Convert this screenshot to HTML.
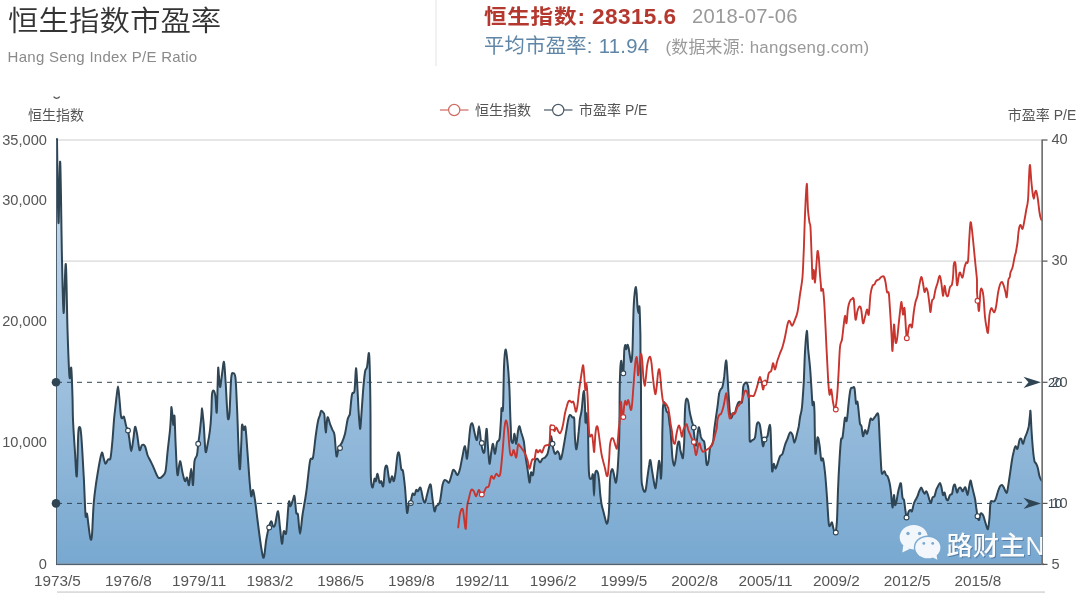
<!DOCTYPE html>
<html lang="zh-CN"><head><meta charset="utf-8"><title>恒生指数市盈率</title>
<style>html,body{margin:0;padding:0;background:#fff;}body{width:1080px;height:593px;overflow:hidden;position:relative;font-family:"Liberation Sans", "Noto Sans CJK SC", sans-serif;}svg{display:block;position:absolute;left:0;top:0;}text{font-family:"Liberation Sans", "Noto Sans CJK SC", sans-serif;}</style>
</head><body>
<svg width="1080" height="593" viewBox="0 0 1080 593">
<defs>
<linearGradient id="g" x1="0" y1="140" x2="0" y2="563" gradientUnits="userSpaceOnUse"><stop offset="0" stop-color="#d0e0f0"/><stop offset="1" stop-color="#78a8d0"/></linearGradient>
<clipPath id="c"><rect x="56" y="138" width="986.5" height="427"/></clipPath>
</defs>
<rect width="1080" height="593" fill="#fff"/>
<text transform="translate(8 30.7) scale(1 0.94)" font-size="30.5" font-weight="350" fill="#333">恒生指数市盈率</text>
<text x="7.6" y="62" font-size="15" fill="#8a8a8a" textLength="189.6" lengthAdjust="spacing">Hang Seng Index P/E Ratio</text>
<rect x="435.5" y="0" width="1" height="66" fill="#e3e3e3"/>
<text transform="translate(484 24.3) scale(1 0.9)" font-size="22.6" font-weight="bold" fill="#b5382f" textLength="92.5" lengthAdjust="spacing">恒生指数</text>
<text x="577.6" y="24" font-size="22.6" font-weight="bold" fill="#b5382f" textLength="98.4" lengthAdjust="spacing">: 28315.6</text>
<text x="692" y="22.6" font-size="20.2" fill="#999" textLength="105.5" lengthAdjust="spacing">2018-07-06</text>
<text x="484" y="52.6" font-size="20.3" fill="#5f86a6" textLength="165" lengthAdjust="spacing">平均市盈率: 11.94</text>
<text x="665.5" y="52.6" font-size="16.9" fill="#999" textLength="203.6" lengthAdjust="spacing">(数据来源: hangseng.com)</text>
<path d="M53.6 96.6Q56.6 100 59.8 96.6" fill="none" stroke="#555" stroke-width="1.3"/>
<text x="56" y="119.5" font-size="14" text-anchor="middle" fill="#555">恒生指数</text>
<text x="1042" y="119.5" font-size="14" text-anchor="middle" fill="#555">市盈率 P/E</text>
<g fill="#fff" stroke-width="1.2"><path d="M440 110H468.5" stroke="#cf6a63"/><circle cx="454.2" cy="110" r="5.6" stroke="#cf6a63"/><path d="M544 110H572.5" stroke="#4a5a68"/><circle cx="558.2" cy="110" r="5.6" stroke="#4a5a68"/></g>
<text x="475" y="115" font-size="14" fill="#555">恒生指数</text>
<text x="579" y="115" font-size="14" fill="#555">市盈率 P/E</text>
<g fill="#d6d6d6"><rect x="57" y="139.4" width="986" height="1.2"/><rect x="57" y="260.5" width="986" height="1.2"/></g>
<text x="46.9" y="144.8" font-size="14.6" text-anchor="end" fill="#555">35,000</text>
<text x="46.9" y="205.3" font-size="14.6" text-anchor="end" fill="#555">30,000</text>
<text x="46.9" y="326.3" font-size="14.6" text-anchor="end" fill="#555">20,000</text>
<text x="46.9" y="447.3" font-size="14.6" text-anchor="end" fill="#555">10,000</text>
<text x="46.9" y="569.2" font-size="14.6" text-anchor="end" fill="#555">0</text>
<text x="1051.5" y="144.2" font-size="14.6" fill="#555">40</text>
<text x="1051.5" y="265.2" font-size="14.6" fill="#555">30</text>
<text x="1051.5" y="386.7" font-size="14.6" fill="#555">20</text>
<text x="1051.5" y="507.7" font-size="14.6" fill="#555">10</text>
<text x="1051.5" y="569.2" font-size="14.6" fill="#555">5</text>
<text x="57.5" y="586" font-size="15.3" text-anchor="middle" fill="#555">1973/5</text>
<text x="128.3" y="586" font-size="15.3" text-anchor="middle" fill="#555">1976/8</text>
<text x="199.1" y="586" font-size="15.3" text-anchor="middle" fill="#555">1979/11</text>
<text x="269.9" y="586" font-size="15.3" text-anchor="middle" fill="#555">1983/2</text>
<text x="340.7" y="586" font-size="15.3" text-anchor="middle" fill="#555">1986/5</text>
<text x="411.5" y="586" font-size="15.3" text-anchor="middle" fill="#555">1989/8</text>
<text x="482.3" y="586" font-size="15.3" text-anchor="middle" fill="#555">1992/11</text>
<text x="553.1" y="586" font-size="15.3" text-anchor="middle" fill="#555">1996/2</text>
<text x="623.9" y="586" font-size="15.3" text-anchor="middle" fill="#555">1999/5</text>
<text x="694.7" y="586" font-size="15.3" text-anchor="middle" fill="#555">2002/8</text>
<text x="765.5" y="586" font-size="15.3" text-anchor="middle" fill="#555">2005/11</text>
<text x="836.3" y="586" font-size="15.3" text-anchor="middle" fill="#555">2009/2</text>
<text x="907.1" y="586" font-size="15.3" text-anchor="middle" fill="#555">2012/5</text>
<text x="977.9" y="586" font-size="15.3" text-anchor="middle" fill="#555">2015/8</text>
<g clip-path="url(#c)">
<path d="M57.0 139.0C57.2 153.0 58.0 219.2 58.5 223.0C59.0 226.8 59.6 155.8 60.2 162.0C60.8 168.2 61.4 234.8 62.0 260.0C62.6 285.2 63.0 312.3 63.6 313.0C64.2 313.7 65.1 261.2 65.8 264.0C66.5 266.8 66.9 310.7 67.5 329.5C68.1 348.3 68.9 370.6 69.5 377.0C70.1 383.4 70.8 364.7 71.2 368.0C71.8 371.3 72.2 388.3 72.5 397.0C72.8 405.7 72.6 410.8 73.0 420.0C73.4 429.2 74.4 443.1 75.0 452.5C75.6 461.9 76.2 479.2 76.8 476.2C77.3 473.3 77.8 443.2 78.2 435.0C78.7 426.8 79.0 427.0 79.5 427.0C80.0 427.0 80.5 426.6 81.2 435.0C82.0 443.4 83.0 464.2 83.8 477.5C84.5 490.8 85.0 509.0 85.5 515.0C86.0 521.0 86.5 511.7 87.0 513.8C87.5 515.8 88.2 523.3 88.8 527.5C89.3 531.7 90.0 537.5 90.5 538.8C91.0 540.0 91.5 541.0 92.0 535.0C92.5 529.0 93.0 511.2 93.8 502.5C94.5 493.8 95.2 489.6 96.2 482.5C97.3 475.4 99.0 465.0 100.0 460.0C101.0 455.0 101.4 452.7 102.0 452.5C102.6 452.3 103.2 456.9 103.8 458.8C104.3 460.6 104.8 463.6 105.5 463.8C106.2 463.9 107.2 460.5 108.0 459.5C108.8 458.5 109.8 461.2 110.5 458.0C111.2 454.8 111.9 446.8 112.5 440.0C113.1 433.2 113.6 424.2 114.2 417.5C114.9 410.8 115.6 404.7 116.2 399.5C116.9 394.3 117.5 386.5 118.0 386.5C118.5 386.5 119.0 394.5 119.5 399.5C120.0 404.5 120.5 413.2 121.0 416.2C121.5 419.3 122.0 417.9 122.5 418.0C123.0 418.1 123.4 415.6 124.0 417.0C124.6 418.4 125.6 424.0 126.2 426.2C126.9 428.5 127.5 428.2 128.0 430.5C128.5 432.8 129.0 436.5 129.5 440.0C130.0 443.5 130.6 451.2 131.2 451.2C131.9 451.2 132.6 444.0 133.2 440.0C133.9 436.0 134.4 428.0 135.0 427.0C135.6 426.0 136.2 429.9 137.0 433.8C137.8 437.6 138.7 448.1 139.5 450.0C140.3 451.9 141.1 445.6 142.0 445.0C142.9 444.4 144.1 444.6 145.0 446.2C145.9 447.9 146.7 452.7 147.5 455.0C148.3 457.3 149.1 458.1 150.0 460.0C150.9 461.9 152.0 464.0 153.0 466.2C154.0 468.5 155.3 471.8 156.2 473.8C157.2 475.7 157.7 477.6 158.8 478.0C159.8 478.4 161.4 477.4 162.5 476.2C163.6 475.1 164.7 475.2 165.5 471.2C166.3 467.3 166.8 459.4 167.5 452.5C168.2 445.6 169.4 436.2 170.0 430.0C170.6 423.8 170.8 418.8 171.0 415.0C171.2 411.2 171.2 406.8 171.5 407.0C171.8 407.2 172.2 413.2 172.5 416.2C172.8 419.2 172.9 425.0 173.2 425.0C173.6 425.0 174.1 412.5 174.5 416.2C174.9 420.0 175.2 437.7 175.8 447.5C176.2 457.3 176.8 472.7 177.5 475.0C178.2 477.3 179.2 461.7 180.0 461.2C180.8 460.8 181.7 469.2 182.5 472.5C183.3 475.8 184.2 480.4 185.0 481.2C185.8 482.1 186.3 476.9 187.0 477.5C187.7 478.1 188.3 486.5 189.0 485.0C189.7 483.5 190.6 468.8 191.2 468.8C191.9 468.8 192.5 486.2 193.0 485.0C193.5 483.8 193.8 466.2 194.5 461.2C195.2 456.2 196.4 457.9 197.0 455.0C197.6 452.1 197.8 447.9 198.2 443.8C198.8 439.6 199.5 434.8 200.0 430.0C200.5 425.2 201.2 418.6 201.5 415.0C201.8 411.4 201.8 408.2 202.0 408.2C202.2 408.2 202.5 412.2 202.8 415.0C203.0 417.8 203.3 419.0 203.8 425.0C204.2 431.0 204.9 447.9 205.5 451.2C206.1 454.6 206.8 448.5 207.5 445.0C208.2 441.5 209.4 435.0 210.0 430.0C210.6 425.0 210.9 420.9 211.2 415.0C211.6 409.1 211.6 398.5 212.0 394.5C212.4 390.5 213.2 390.3 213.8 390.8C214.3 391.2 215.0 393.5 215.5 397.0C216.0 400.5 216.3 416.2 216.8 412.0C217.2 407.8 217.7 379.0 218.0 372.0C218.3 365.0 218.2 367.5 218.5 370.0C218.8 372.5 219.4 386.2 220.0 387.0C220.6 387.8 221.3 378.7 222.0 374.5C222.7 370.3 223.4 360.3 224.0 362.0C224.6 363.7 225.2 377.0 225.8 384.5C226.2 392.0 226.6 401.3 227.0 407.0C227.4 412.7 227.6 417.7 228.0 418.8C228.4 419.8 229.0 420.0 229.5 413.2C230.0 406.5 230.6 384.9 231.2 378.2C231.9 371.6 232.5 373.2 233.2 373.2C234.0 373.2 234.9 372.6 235.5 378.2C236.1 383.9 236.5 396.7 237.0 407.0C237.5 417.3 237.9 431.2 238.2 440.0C238.6 448.8 238.7 455.2 239.0 460.0C239.3 464.8 239.6 471.2 240.0 468.8C240.4 466.2 240.9 452.3 241.2 445.0C241.6 437.7 241.6 427.5 242.0 425.0C242.4 422.5 243.2 429.6 243.8 430.0C244.3 430.4 244.9 423.8 245.5 427.5C246.1 431.2 246.8 443.8 247.5 452.5C248.2 461.2 248.9 472.7 249.5 480.0C250.1 487.3 250.7 494.6 251.2 496.2C251.8 497.9 252.4 489.4 253.0 490.0C253.6 490.6 254.2 495.0 255.0 500.0C255.8 505.0 256.5 512.1 257.5 520.0C258.5 527.9 260.2 541.2 261.2 547.5C262.3 553.8 262.9 558.8 263.8 557.5C264.6 556.2 265.4 545.0 266.2 540.0C267.1 535.0 267.9 530.6 268.8 527.5C269.6 524.4 270.5 521.5 271.2 521.2C272.0 521.0 272.4 525.6 273.0 526.2C273.6 526.9 274.2 527.5 275.0 525.0C275.8 522.5 277.2 510.8 278.0 511.2C278.8 511.7 279.3 522.1 280.0 527.5C280.7 532.9 281.4 543.1 282.0 543.8C282.6 544.4 283.0 533.1 283.8 531.2C284.5 529.4 285.4 537.3 286.2 532.5C287.1 527.7 288.0 506.9 288.8 502.5C289.5 498.1 289.9 506.5 290.5 506.2C291.1 506.0 291.8 502.9 292.5 501.2C293.2 499.6 293.9 494.4 294.5 496.2C295.1 498.1 295.7 509.4 296.2 512.5C296.8 515.6 297.4 511.5 298.0 515.0C298.6 518.5 299.2 533.8 300.0 533.8C300.8 533.8 301.5 521.9 302.5 515.0C303.5 508.1 305.0 501.5 306.2 492.5C307.5 483.5 308.9 467.1 310.0 461.2C311.1 455.4 312.1 461.5 313.0 457.5C313.9 453.5 314.7 443.5 315.5 437.5C316.3 431.5 317.2 425.0 318.0 421.2C318.8 417.5 319.5 416.8 320.0 415.0C320.5 413.2 320.6 411.0 321.2 410.8C321.9 410.5 323.2 412.3 323.8 413.2C324.3 414.2 324.2 413.0 324.5 416.2C324.8 419.5 325.2 432.3 325.8 432.5C326.2 432.7 326.8 419.0 327.5 417.5C328.2 416.0 329.2 421.7 330.0 423.8C330.8 425.8 331.8 428.1 332.5 430.0C333.2 431.9 333.8 430.6 334.5 435.0C335.2 439.4 335.8 454.2 336.5 456.2C337.2 458.3 337.8 449.8 338.8 447.5C339.7 445.2 341.0 444.8 342.0 442.5C343.0 440.2 344.1 437.5 345.0 433.8C345.9 430.0 346.8 423.1 347.5 420.0C348.2 416.9 349.1 416.1 349.5 415.0C349.9 413.9 349.6 416.7 350.0 413.2C350.4 409.8 351.2 398.2 352.0 394.5C352.8 390.8 353.8 395.1 354.5 390.8C355.2 386.4 355.5 368.5 356.0 368.2C356.5 368.0 357.1 382.6 357.5 389.5C357.9 396.4 358.2 404.4 358.5 409.5C358.8 414.6 359.0 416.8 359.2 420.0C359.5 423.2 359.9 429.2 360.2 428.8C360.6 428.3 360.8 423.6 361.2 417.5C361.7 411.4 362.4 399.6 363.0 392.0C363.6 384.4 364.3 376.2 365.0 372.0C365.7 367.8 366.3 370.1 367.0 367.0C367.7 363.9 368.5 351.2 369.0 353.2C369.5 355.3 369.8 369.2 370.0 379.5C370.2 389.8 370.4 399.1 370.5 415.0C370.6 430.9 370.5 462.9 370.8 475.0C371.1 487.1 371.9 486.9 372.5 487.5C373.1 488.1 374.0 479.8 374.5 478.8C375.0 477.7 375.2 482.1 375.8 481.2C376.2 480.4 376.9 473.5 377.5 473.8C378.1 474.0 378.9 481.2 379.5 482.5C380.1 483.8 380.6 480.6 381.2 481.2C381.9 481.9 382.6 488.3 383.2 486.2C383.9 484.2 384.4 472.1 385.0 468.8C385.6 465.4 386.4 464.8 387.0 466.2C387.6 467.7 388.2 474.8 388.8 477.5C389.2 480.2 389.5 482.7 390.0 482.5C390.5 482.3 391.4 476.5 392.0 476.2C392.6 476.0 393.2 481.9 393.8 481.2C394.3 480.6 394.9 476.9 395.5 472.5C396.1 468.1 396.9 458.1 397.5 455.0C398.1 451.9 398.6 451.5 399.2 453.8C399.9 456.0 400.6 465.8 401.2 468.8C401.9 471.7 402.4 468.1 403.0 471.2C403.6 474.4 404.3 480.6 405.0 487.5C405.7 494.4 406.4 509.8 407.0 512.5C407.6 515.2 408.2 505.4 408.8 503.8C409.3 502.1 409.9 504.2 410.5 502.5C411.1 500.8 411.8 495.0 412.5 493.8C413.2 492.5 413.9 495.6 414.5 495.0C415.1 494.4 415.7 490.6 416.2 490.0C416.8 489.4 417.4 491.7 418.0 491.2C418.6 490.8 419.5 487.7 420.0 487.5C420.5 487.3 420.8 488.1 421.2 490.0C421.8 491.9 422.4 496.7 423.0 498.8C423.6 500.8 424.3 503.1 425.0 502.5C425.7 501.9 426.3 497.5 427.0 495.0C427.7 492.5 428.4 489.2 429.0 487.5C429.6 485.8 430.2 483.1 430.8 485.0C431.3 486.9 431.9 494.4 432.5 498.8C433.1 503.1 433.9 510.0 434.5 511.2C435.1 512.5 435.7 507.3 436.2 506.2C436.8 505.2 437.4 505.8 438.0 505.0C438.6 504.2 439.2 504.6 440.0 501.2C440.8 497.9 441.8 488.5 442.5 485.0C443.2 481.5 443.8 480.6 444.5 480.0C445.2 479.4 446.2 480.8 447.0 481.2C447.8 481.7 448.3 483.3 449.0 482.5C449.7 481.7 450.6 478.3 451.2 476.2C451.9 474.2 452.4 470.8 453.0 470.0C453.6 469.2 454.2 470.4 455.0 471.2C455.8 472.1 456.7 475.4 457.5 475.0C458.3 474.6 459.2 471.9 460.0 468.8C460.8 465.6 461.7 460.0 462.5 456.2C463.3 452.5 464.2 445.8 465.0 446.2C465.8 446.7 466.4 459.4 467.0 458.8C467.6 458.1 468.2 447.9 468.8 442.5C469.3 437.1 469.9 429.4 470.5 426.2C471.1 423.1 471.8 422.7 472.5 423.8C473.2 424.8 473.8 429.8 474.5 432.5C475.2 435.2 476.2 441.0 477.0 440.0C477.8 439.0 478.4 426.2 479.0 426.2C479.6 426.2 480.2 436.0 480.8 440.0C481.3 444.0 481.9 448.1 482.5 450.0C483.1 451.9 483.8 454.8 484.5 451.2C485.2 447.7 485.9 429.4 486.5 428.8C487.1 428.1 487.5 441.7 488.0 447.5C488.5 453.3 489.0 462.9 489.5 463.8C490.0 464.6 490.7 455.8 491.2 452.5C491.8 449.2 492.4 443.5 493.0 443.8C493.6 444.0 494.3 454.0 495.0 453.8C495.7 453.5 496.2 445.0 497.0 442.5C497.8 440.0 498.9 442.1 499.5 438.8C500.1 435.4 500.5 426.5 500.8 422.5C501.0 418.5 501.1 417.4 501.2 415.0C501.4 412.6 501.2 409.4 501.5 408.2C501.8 407.1 502.6 415.1 503.0 408.2C503.4 401.4 503.6 376.8 504.0 367.0C504.4 357.2 504.9 350.3 505.5 349.5C506.1 348.7 506.9 356.2 507.5 362.0C508.1 367.8 508.8 377.0 509.2 384.5C509.7 392.0 509.8 399.8 510.0 407.0C510.2 414.2 510.5 422.0 510.8 427.5C511.0 433.0 510.9 437.5 511.2 440.0C511.6 442.5 512.5 443.5 513.0 442.5C513.5 441.5 514.0 433.5 514.5 433.8C515.0 434.0 515.7 444.2 516.2 443.8C516.8 443.3 517.5 434.2 518.0 431.2C518.5 428.3 519.0 426.0 519.5 426.2C520.0 426.5 520.5 430.0 521.2 432.5C522.0 435.0 523.0 437.3 523.8 441.2C524.5 445.2 524.9 451.7 525.5 456.2C526.1 460.8 526.8 464.4 527.5 468.8C528.2 473.1 528.9 481.9 529.5 482.5C530.1 483.1 530.4 473.8 531.0 472.5C531.6 471.2 532.3 476.9 533.0 475.0C533.7 473.1 534.2 464.0 535.0 461.2C535.8 458.5 536.7 458.5 537.5 458.8C538.3 459.0 539.2 462.5 540.0 462.5C540.8 462.5 541.7 459.6 542.5 458.8C543.3 457.9 544.2 458.3 545.0 457.5C545.8 456.7 546.8 455.8 547.5 453.8C548.2 451.7 548.9 447.9 549.5 445.0C550.1 442.1 550.7 435.8 551.2 436.2C551.8 436.7 552.4 444.6 553.0 447.5C553.6 450.4 554.2 453.1 555.0 453.8C555.8 454.4 556.8 451.0 557.5 451.2C558.2 451.5 559.1 453.7 559.5 455.0C559.9 456.3 559.6 458.9 560.0 459.2C560.4 459.4 561.0 459.3 561.7 456.7C562.4 454.0 563.3 448.1 564.2 443.3C565.0 438.6 566.1 431.7 566.7 428.3C567.2 425.0 567.1 425.4 567.5 423.3C567.9 421.2 568.6 417.2 569.2 415.8C569.7 414.5 570.3 415.1 570.8 415.3C571.4 415.6 571.9 417.0 572.5 417.5C573.1 418.0 573.8 416.0 574.2 418.3C574.5 420.7 574.5 428.3 574.7 431.7C574.8 435.0 574.8 435.4 575.0 438.3C575.2 441.2 575.8 448.3 576.2 449.2C576.6 450.0 577.1 446.2 577.5 443.3C577.9 440.4 578.3 435.0 578.7 431.7C579.0 428.3 579.3 425.6 579.5 423.3C579.7 421.1 579.6 420.6 580.0 418.3C580.4 416.1 581.1 414.2 581.7 410.0C582.2 405.8 582.9 396.2 583.3 393.3C583.8 390.4 583.9 390.3 584.2 392.5C584.4 394.7 584.8 401.7 585.0 406.7C585.2 411.7 585.2 421.4 585.5 422.5C585.8 423.6 586.3 413.2 586.7 413.3C587.0 413.5 587.3 420.8 587.5 423.3C587.7 425.8 587.8 421.1 588.0 428.3C588.2 435.6 588.4 458.4 588.7 466.7C588.9 474.9 589.2 476.1 589.7 478.0C590.2 479.9 591.1 478.8 591.7 478.3C592.2 477.8 592.6 472.1 593.0 475.0C593.4 477.9 593.7 495.8 594.0 495.8C594.3 495.8 594.6 479.2 595.0 475.0C595.4 470.8 595.8 471.1 596.3 470.8C596.8 470.6 597.5 471.5 598.0 473.3C598.5 475.1 598.8 478.1 599.2 481.7C599.6 485.3 599.9 491.1 600.3 495.0C600.8 498.9 601.2 502.5 601.7 505.0C602.1 507.5 602.5 508.1 603.0 510.0C603.5 511.9 604.1 514.4 604.7 516.7C605.3 518.9 606.1 523.4 606.7 523.7C607.3 523.9 607.9 521.7 608.3 518.3C608.8 514.9 609.1 509.7 609.3 503.3C609.6 496.9 609.7 485.3 610.0 480.0C610.3 474.7 610.6 473.5 611.0 471.7C611.4 469.9 612.1 468.9 612.5 469.2C612.9 469.4 613.2 471.5 613.7 473.3C614.1 475.1 614.6 478.5 615.0 480.0C615.4 481.5 615.6 483.6 616.0 482.5C616.4 481.4 616.9 477.4 617.3 473.3C617.7 469.3 618.0 464.7 618.3 458.3C618.7 451.9 619.1 446.4 619.3 435.0C619.6 423.6 619.5 401.1 619.7 390.0C619.8 378.9 620.1 373.2 620.3 368.3C620.6 363.5 621.0 360.6 621.3 360.8C621.7 361.1 622.0 367.9 622.3 370.0C622.7 372.1 623.0 376.7 623.3 373.3C623.7 370.0 624.0 354.7 624.3 350.0C624.7 345.3 625.0 345.1 625.3 345.0C625.7 344.9 626.0 349.2 626.3 349.2C626.7 349.1 627.1 344.8 627.5 344.7C627.9 344.5 628.2 346.3 628.7 348.3C629.1 350.3 629.6 354.4 630.0 356.7C630.4 358.9 630.9 362.8 631.3 361.7C631.8 360.6 632.1 359.5 632.5 350.0C632.9 340.5 633.2 315.0 633.8 304.5C634.3 294.0 635.4 286.6 636.0 287.0C636.6 287.4 637.1 302.7 637.5 307.0C637.9 311.3 638.2 313.0 638.5 313.0C638.8 313.0 639.2 303.3 639.5 307.0C639.8 310.7 640.2 326.7 640.4 335.0C640.5 343.3 640.4 347.5 640.5 356.7C640.6 365.8 640.9 370.8 641.0 390.0C641.1 409.2 641.1 455.6 641.3 471.7C641.6 487.8 642.0 483.3 642.5 486.7C643.0 490.0 643.6 491.2 644.2 491.7C644.7 492.1 645.3 491.7 645.8 489.2C646.4 486.7 646.9 480.7 647.5 476.7C648.1 472.6 648.7 467.8 649.2 465.0C649.6 462.2 649.9 459.4 650.3 460.0C650.8 460.6 651.2 465.3 651.7 468.3C652.2 471.4 652.7 475.0 653.3 478.3C653.9 481.7 654.8 488.1 655.3 488.3C655.9 488.6 656.2 483.3 656.7 480.0C657.1 476.7 657.6 471.5 658.0 468.3C658.4 465.1 658.8 460.6 659.2 460.8C659.6 461.1 660.0 467.1 660.3 470.0C660.6 472.9 660.7 480.3 661.0 478.3C661.3 476.4 661.8 465.8 662.0 458.3C662.2 450.8 662.2 440.6 662.3 433.3C662.4 426.1 662.6 419.4 662.7 415.0C662.8 410.6 662.8 408.8 663.0 406.7C663.2 404.5 663.8 402.0 664.2 402.0C664.6 402.0 664.9 405.1 665.3 406.7C665.8 408.3 666.2 410.6 666.7 411.7C667.2 412.8 667.9 411.4 668.3 413.3C668.8 415.3 669.2 420.8 669.5 423.3C669.8 425.8 670.0 425.3 670.3 428.3C670.6 431.4 671.0 436.7 671.3 441.7C671.7 446.7 672.0 454.3 672.5 458.3C673.0 462.4 673.6 465.8 674.2 465.8C674.7 465.8 675.3 461.8 675.8 458.3C676.4 454.9 676.9 447.8 677.5 445.0C678.1 442.2 678.7 440.8 679.2 441.7C679.6 442.5 679.9 447.8 680.3 450.0C680.8 452.2 681.2 453.8 681.7 455.0C682.1 456.2 682.6 459.7 683.0 457.5C683.4 455.3 683.9 446.5 684.2 441.7C684.4 436.8 684.4 433.6 684.5 428.3C684.6 423.1 684.8 414.6 685.0 410.0C685.2 405.4 685.5 402.7 685.8 400.8C686.2 398.9 686.6 398.5 687.0 398.7C687.4 398.8 687.9 399.5 688.3 401.7C688.8 403.8 689.2 409.2 689.7 411.7C690.1 414.2 690.4 415.0 690.8 416.7C691.2 418.3 691.6 420.0 692.0 421.7C692.4 423.3 693.0 424.4 693.3 426.7C693.7 428.9 693.8 432.2 694.2 435.0C694.5 437.8 695.0 441.7 695.3 443.3C695.7 445.0 696.0 446.4 696.3 445.0C696.7 443.6 697.1 437.9 697.5 435.0C697.9 432.1 698.3 428.3 698.7 427.5C699.0 426.7 699.3 428.5 699.7 430.0C700.0 431.5 700.4 435.0 700.8 436.7C701.3 438.3 701.9 439.2 702.5 440.0C703.1 440.8 703.7 440.0 704.2 441.7C704.6 443.3 705.0 446.5 705.3 450.0C705.7 453.5 706.0 460.0 706.3 462.5C706.7 465.0 706.9 465.4 707.3 465.0C707.7 464.6 708.2 462.8 708.7 460.0C709.1 457.2 709.4 450.8 710.0 448.3C710.6 445.8 711.4 446.4 712.0 445.0C712.6 443.6 713.0 442.5 713.3 440.0C713.7 437.5 713.8 433.6 714.2 430.0C714.6 426.4 715.3 422.2 715.8 418.3C716.4 414.4 716.9 410.8 717.5 406.7C718.1 402.5 718.6 396.2 719.2 393.3C719.7 390.4 720.3 390.3 720.8 389.2C721.4 388.1 721.9 388.8 722.5 386.7C723.1 384.6 723.7 380.3 724.2 376.7C724.6 373.1 725.0 367.6 725.3 365.0C725.7 362.4 726.0 359.4 726.3 360.8C726.7 362.2 727.0 368.5 727.3 373.3C727.7 378.2 728.0 385.0 728.3 390.0C728.6 395.0 728.9 399.4 729.2 403.3C729.4 407.2 729.6 410.8 730.0 413.3C730.4 415.8 730.8 418.3 731.3 418.3C731.9 418.3 732.7 414.3 733.3 413.3C733.9 412.4 734.4 413.6 735.0 412.5C735.6 411.4 736.1 408.3 736.7 406.7C737.2 405.0 737.8 403.3 738.3 402.5C738.8 401.7 739.1 401.8 739.7 401.7C740.3 401.6 741.4 404.4 742.0 402.0C742.6 399.6 742.8 390.1 743.2 387.0C743.8 383.9 744.4 383.9 745.0 383.2C745.6 382.6 746.4 382.2 747.0 383.2C747.6 384.3 748.2 386.0 748.5 389.5C748.8 393.0 748.8 397.8 749.0 404.5C749.2 411.2 749.4 423.9 749.5 430.0C749.6 436.1 749.5 439.6 749.8 441.2C750.2 442.9 751.6 440.6 752.5 440.0C753.4 439.4 754.2 440.2 755.0 437.5C755.8 434.8 756.2 426.0 757.0 423.8C757.8 421.5 758.8 422.1 759.5 423.8C760.2 425.4 760.7 430.0 761.2 433.8C761.8 437.5 762.4 445.4 763.0 446.2C763.6 447.1 764.2 440.4 765.0 438.8C765.8 437.1 766.8 438.1 767.5 436.2C768.2 434.4 768.5 428.8 769.0 427.5C769.5 426.2 770.0 421.7 770.5 428.8C771.0 435.8 771.5 464.2 772.0 470.0C772.5 475.8 773.2 464.0 773.8 463.8C774.3 463.5 774.9 468.8 775.5 468.8C776.1 468.8 776.8 465.8 777.5 463.8C778.2 461.7 779.2 457.9 780.0 456.2C780.8 454.6 781.7 455.6 782.5 453.8C783.3 451.9 784.2 447.5 785.0 445.0C785.8 442.5 786.7 440.8 787.5 438.8C788.3 436.7 789.2 433.1 790.0 432.5C790.8 431.9 791.8 433.3 792.5 435.0C793.2 436.7 793.8 442.7 794.5 442.5C795.2 442.3 796.3 436.5 797.0 433.8C797.7 431.0 798.2 429.0 798.8 426.2C799.2 423.5 799.5 420.7 800.0 417.5C800.5 414.3 801.4 412.9 802.0 407.0C802.6 401.1 803.2 391.2 803.8 382.0C804.2 372.8 804.5 360.5 805.0 352.0C805.5 343.5 806.2 331.2 806.8 330.8C807.3 330.3 807.7 343.5 808.2 349.5C808.8 355.5 809.5 361.2 810.0 367.0C810.5 372.8 810.8 378.2 811.2 384.5C811.7 390.8 812.1 401.6 812.5 404.5C812.9 407.4 813.4 400.8 813.8 402.0C814.1 403.2 814.3 407.3 814.5 412.0C814.7 416.7 814.6 423.0 814.8 430.0C814.9 437.0 815.0 452.5 815.5 453.8C816.0 455.0 816.8 439.0 817.5 437.5C818.2 436.0 818.9 441.2 819.5 445.0C820.1 448.8 820.7 457.7 821.2 460.0C821.8 462.3 822.4 456.7 823.0 458.8C823.6 460.8 824.3 466.0 825.0 472.5C825.7 479.0 826.4 489.0 827.0 497.5C827.6 506.0 828.2 519.2 828.8 523.8C829.3 528.3 830.0 525.2 830.5 525.0C831.0 524.8 831.5 521.7 832.0 522.5C832.5 523.3 833.2 528.3 833.8 530.0C834.3 531.7 835.0 534.2 835.5 532.5C836.0 530.8 836.6 527.1 837.0 520.0C837.4 512.9 837.6 500.0 838.0 490.0C838.4 480.0 839.0 468.3 839.5 460.0C840.0 451.7 840.5 443.8 841.0 440.0C841.5 436.2 842.0 440.0 842.5 437.5C843.0 435.0 843.6 428.3 844.0 425.0C844.4 421.7 844.6 418.1 845.0 417.5C845.4 416.9 846.1 421.7 846.5 421.2C846.9 420.8 847.1 418.2 847.5 415.0C847.9 411.8 848.2 406.2 848.8 402.0C849.2 397.8 849.9 391.9 850.5 389.5C851.1 387.1 851.8 388.0 852.5 387.8C853.2 387.5 853.9 385.7 854.5 388.2C855.1 390.8 855.5 401.0 856.0 403.2C856.5 405.5 857.0 400.0 857.5 402.0C858.0 404.0 858.6 411.4 859.0 415.0C859.4 418.6 859.6 421.9 860.0 423.8C860.4 425.6 861.0 424.2 861.5 426.2C862.0 428.3 862.4 435.6 863.0 436.2C863.6 436.9 864.3 430.4 865.0 430.0C865.7 429.6 866.3 434.4 867.0 433.8C867.7 433.1 868.4 428.8 869.0 426.2C869.6 423.8 869.9 419.8 870.5 418.8C871.1 417.7 871.8 420.2 872.5 420.0C873.2 419.8 873.9 418.2 874.5 417.5C875.1 416.8 875.6 416.1 876.0 415.5C876.4 414.9 876.6 413.9 877.0 414.0C877.4 414.1 878.0 411.1 878.5 416.2C879.0 421.4 879.5 435.8 880.0 445.0C880.5 454.2 881.0 466.6 881.5 471.2C882.0 475.9 882.5 473.0 883.0 473.0C883.5 473.0 884.0 470.9 884.5 471.2C885.0 471.6 885.5 474.2 886.0 475.0C886.5 475.8 886.9 475.0 887.5 476.2C888.1 477.5 888.9 479.8 889.5 482.5C890.1 485.2 890.5 488.3 891.0 492.5C891.5 496.7 892.0 507.1 892.5 507.5C893.0 507.9 893.6 495.4 894.0 495.0C894.4 494.6 894.6 504.0 895.0 505.0C895.4 506.0 896.0 503.3 896.5 501.2C897.0 499.2 897.5 495.0 898.0 492.5C898.5 490.0 899.0 487.7 899.5 486.2C900.0 484.8 900.5 481.9 901.0 483.8C901.5 485.6 902.0 494.8 902.5 497.5C903.0 500.2 903.5 497.7 904.0 500.0C904.5 502.3 905.0 508.3 905.5 511.2C906.0 514.2 906.2 517.5 906.8 517.5C907.3 517.5 908.1 512.5 908.8 511.2C909.4 510.0 910.0 510.0 910.5 510.0C911.0 510.0 911.5 512.3 912.0 511.2C912.5 510.2 913.2 505.6 913.8 503.8C914.3 501.9 914.9 501.2 915.5 500.0C916.1 498.8 916.9 497.7 917.5 496.2C918.1 494.8 918.6 492.7 919.2 491.2C919.9 489.8 920.6 487.5 921.2 487.5C921.9 487.5 922.5 490.2 923.0 491.2C923.5 492.3 924.0 493.8 924.5 493.8C925.0 493.8 925.7 491.0 926.2 491.2C926.8 491.5 927.5 493.5 928.0 495.0C928.5 496.5 929.0 498.7 929.5 500.0C930.0 501.3 930.5 503.4 931.0 503.0C931.5 502.6 931.9 498.6 932.5 497.5C933.1 496.4 933.9 497.5 934.5 496.2C935.1 495.0 935.7 491.7 936.2 490.0C936.8 488.3 937.4 487.4 938.0 486.2C938.6 485.1 939.4 482.8 940.0 483.0C940.6 483.2 941.0 485.5 941.5 487.5C942.0 489.5 942.5 494.2 943.0 495.0C943.5 495.8 944.0 491.9 944.5 492.5C945.0 493.1 945.7 497.5 946.2 498.8C946.8 500.0 947.4 500.6 948.0 500.0C948.6 499.4 949.3 496.0 950.0 495.0C950.7 494.0 951.4 495.2 952.0 493.8C952.6 492.3 953.0 487.7 953.5 486.2C954.0 484.8 954.4 484.0 955.0 485.0C955.6 486.0 956.4 491.9 957.0 492.5C957.6 493.1 957.9 489.6 958.5 488.8C959.1 487.9 959.8 487.1 960.5 487.5C961.2 487.9 961.9 491.0 962.5 491.2C963.1 491.5 963.5 489.4 964.0 488.8C964.5 488.1 964.9 486.5 965.5 487.5C966.1 488.5 966.9 495.0 967.5 495.0C968.1 495.0 968.5 489.9 969.0 487.5C969.5 485.1 970.0 480.7 970.5 480.5C971.0 480.3 971.5 484.2 972.0 486.2C972.5 488.2 973.0 490.4 973.5 492.5C974.0 494.6 974.5 496.2 975.0 498.8C975.5 501.2 975.8 504.6 976.2 507.5C976.7 510.4 977.0 514.2 977.5 516.2C978.0 518.3 978.5 520.4 979.0 520.0C979.5 519.6 980.0 514.8 980.5 513.8C981.0 512.7 981.5 513.3 982.0 513.8C982.5 514.2 983.0 515.0 983.5 516.2C984.0 517.5 984.5 519.6 985.0 521.2C985.5 522.9 986.0 525.0 986.5 526.2C987.0 527.5 987.5 530.2 988.0 528.8C988.5 527.3 989.1 521.9 989.5 517.5C989.9 513.1 990.0 505.2 990.5 502.5C991.0 499.8 991.8 501.5 992.5 501.2C993.2 501.0 993.9 501.9 994.5 501.2C995.1 500.6 995.7 499.2 996.2 497.5C996.8 495.8 997.4 493.1 998.0 491.2C998.6 489.4 999.3 487.3 1000.0 486.2C1000.7 485.2 1001.4 484.8 1002.0 485.0C1002.6 485.2 1003.2 486.5 1003.8 487.5C1004.3 488.5 1005.0 490.4 1005.5 491.2C1006.0 492.1 1006.5 493.8 1007.0 492.5C1007.5 491.2 1008.0 486.9 1008.5 483.8C1009.0 480.6 1009.4 477.7 1010.0 473.8C1010.6 469.8 1011.4 463.8 1012.0 460.0C1012.6 456.2 1013.2 453.5 1013.8 451.2C1014.3 449.0 1014.9 446.7 1015.5 446.2C1016.1 445.8 1016.8 449.8 1017.5 448.8C1018.2 447.7 1018.9 441.7 1019.5 440.0C1020.1 438.3 1020.7 438.1 1021.2 438.8C1021.8 439.4 1022.4 444.0 1023.0 443.8C1023.6 443.5 1024.3 439.4 1025.0 437.5C1025.7 435.6 1026.4 434.4 1027.0 432.5C1027.6 430.6 1028.2 429.2 1028.8 426.2C1029.2 423.3 1029.7 417.5 1030.0 415.0C1030.3 412.5 1030.2 409.0 1030.5 411.5C1030.8 414.0 1031.1 423.6 1031.5 430.0C1031.9 436.4 1032.5 444.8 1033.0 450.0C1033.5 455.2 1034.0 459.0 1034.5 461.2C1035.0 463.5 1035.7 462.5 1036.2 463.8C1036.8 465.0 1037.5 466.7 1038.0 468.8C1038.5 470.8 1038.9 474.3 1039.5 476.2C1040.1 478.2 1040.9 479.7 1041.5 480.5C1042.1 481.3 1042.8 480.9 1043.0 481.0L1043.0 563.5 L57.0 563.5 Z" fill="url(#g)"/>
<path d="M57.0 139.0C57.2 153.0 58.0 219.2 58.5 223.0C59.0 226.8 59.6 155.8 60.2 162.0C60.8 168.2 61.4 234.8 62.0 260.0C62.6 285.2 63.0 312.3 63.6 313.0C64.2 313.7 65.1 261.2 65.8 264.0C66.5 266.8 66.9 310.7 67.5 329.5C68.1 348.3 68.9 370.6 69.5 377.0C70.1 383.4 70.8 364.7 71.2 368.0C71.8 371.3 72.2 388.3 72.5 397.0C72.8 405.7 72.6 410.8 73.0 420.0C73.4 429.2 74.4 443.1 75.0 452.5C75.6 461.9 76.2 479.2 76.8 476.2C77.3 473.3 77.8 443.2 78.2 435.0C78.7 426.8 79.0 427.0 79.5 427.0C80.0 427.0 80.5 426.6 81.2 435.0C82.0 443.4 83.0 464.2 83.8 477.5C84.5 490.8 85.0 509.0 85.5 515.0C86.0 521.0 86.5 511.7 87.0 513.8C87.5 515.8 88.2 523.3 88.8 527.5C89.3 531.7 90.0 537.5 90.5 538.8C91.0 540.0 91.5 541.0 92.0 535.0C92.5 529.0 93.0 511.2 93.8 502.5C94.5 493.8 95.2 489.6 96.2 482.5C97.3 475.4 99.0 465.0 100.0 460.0C101.0 455.0 101.4 452.7 102.0 452.5C102.6 452.3 103.2 456.9 103.8 458.8C104.3 460.6 104.8 463.6 105.5 463.8C106.2 463.9 107.2 460.5 108.0 459.5C108.8 458.5 109.8 461.2 110.5 458.0C111.2 454.8 111.9 446.8 112.5 440.0C113.1 433.2 113.6 424.2 114.2 417.5C114.9 410.8 115.6 404.7 116.2 399.5C116.9 394.3 117.5 386.5 118.0 386.5C118.5 386.5 119.0 394.5 119.5 399.5C120.0 404.5 120.5 413.2 121.0 416.2C121.5 419.3 122.0 417.9 122.5 418.0C123.0 418.1 123.4 415.6 124.0 417.0C124.6 418.4 125.6 424.0 126.2 426.2C126.9 428.5 127.5 428.2 128.0 430.5C128.5 432.8 129.0 436.5 129.5 440.0C130.0 443.5 130.6 451.2 131.2 451.2C131.9 451.2 132.6 444.0 133.2 440.0C133.9 436.0 134.4 428.0 135.0 427.0C135.6 426.0 136.2 429.9 137.0 433.8C137.8 437.6 138.7 448.1 139.5 450.0C140.3 451.9 141.1 445.6 142.0 445.0C142.9 444.4 144.1 444.6 145.0 446.2C145.9 447.9 146.7 452.7 147.5 455.0C148.3 457.3 149.1 458.1 150.0 460.0C150.9 461.9 152.0 464.0 153.0 466.2C154.0 468.5 155.3 471.8 156.2 473.8C157.2 475.7 157.7 477.6 158.8 478.0C159.8 478.4 161.4 477.4 162.5 476.2C163.6 475.1 164.7 475.2 165.5 471.2C166.3 467.3 166.8 459.4 167.5 452.5C168.2 445.6 169.4 436.2 170.0 430.0C170.6 423.8 170.8 418.8 171.0 415.0C171.2 411.2 171.2 406.8 171.5 407.0C171.8 407.2 172.2 413.2 172.5 416.2C172.8 419.2 172.9 425.0 173.2 425.0C173.6 425.0 174.1 412.5 174.5 416.2C174.9 420.0 175.2 437.7 175.8 447.5C176.2 457.3 176.8 472.7 177.5 475.0C178.2 477.3 179.2 461.7 180.0 461.2C180.8 460.8 181.7 469.2 182.5 472.5C183.3 475.8 184.2 480.4 185.0 481.2C185.8 482.1 186.3 476.9 187.0 477.5C187.7 478.1 188.3 486.5 189.0 485.0C189.7 483.5 190.6 468.8 191.2 468.8C191.9 468.8 192.5 486.2 193.0 485.0C193.5 483.8 193.8 466.2 194.5 461.2C195.2 456.2 196.4 457.9 197.0 455.0C197.6 452.1 197.8 447.9 198.2 443.8C198.8 439.6 199.5 434.8 200.0 430.0C200.5 425.2 201.2 418.6 201.5 415.0C201.8 411.4 201.8 408.2 202.0 408.2C202.2 408.2 202.5 412.2 202.8 415.0C203.0 417.8 203.3 419.0 203.8 425.0C204.2 431.0 204.9 447.9 205.5 451.2C206.1 454.6 206.8 448.5 207.5 445.0C208.2 441.5 209.4 435.0 210.0 430.0C210.6 425.0 210.9 420.9 211.2 415.0C211.6 409.1 211.6 398.5 212.0 394.5C212.4 390.5 213.2 390.3 213.8 390.8C214.3 391.2 215.0 393.5 215.5 397.0C216.0 400.5 216.3 416.2 216.8 412.0C217.2 407.8 217.7 379.0 218.0 372.0C218.3 365.0 218.2 367.5 218.5 370.0C218.8 372.5 219.4 386.2 220.0 387.0C220.6 387.8 221.3 378.7 222.0 374.5C222.7 370.3 223.4 360.3 224.0 362.0C224.6 363.7 225.2 377.0 225.8 384.5C226.2 392.0 226.6 401.3 227.0 407.0C227.4 412.7 227.6 417.7 228.0 418.8C228.4 419.8 229.0 420.0 229.5 413.2C230.0 406.5 230.6 384.9 231.2 378.2C231.9 371.6 232.5 373.2 233.2 373.2C234.0 373.2 234.9 372.6 235.5 378.2C236.1 383.9 236.5 396.7 237.0 407.0C237.5 417.3 237.9 431.2 238.2 440.0C238.6 448.8 238.7 455.2 239.0 460.0C239.3 464.8 239.6 471.2 240.0 468.8C240.4 466.2 240.9 452.3 241.2 445.0C241.6 437.7 241.6 427.5 242.0 425.0C242.4 422.5 243.2 429.6 243.8 430.0C244.3 430.4 244.9 423.8 245.5 427.5C246.1 431.2 246.8 443.8 247.5 452.5C248.2 461.2 248.9 472.7 249.5 480.0C250.1 487.3 250.7 494.6 251.2 496.2C251.8 497.9 252.4 489.4 253.0 490.0C253.6 490.6 254.2 495.0 255.0 500.0C255.8 505.0 256.5 512.1 257.5 520.0C258.5 527.9 260.2 541.2 261.2 547.5C262.3 553.8 262.9 558.8 263.8 557.5C264.6 556.2 265.4 545.0 266.2 540.0C267.1 535.0 267.9 530.6 268.8 527.5C269.6 524.4 270.5 521.5 271.2 521.2C272.0 521.0 272.4 525.6 273.0 526.2C273.6 526.9 274.2 527.5 275.0 525.0C275.8 522.5 277.2 510.8 278.0 511.2C278.8 511.7 279.3 522.1 280.0 527.5C280.7 532.9 281.4 543.1 282.0 543.8C282.6 544.4 283.0 533.1 283.8 531.2C284.5 529.4 285.4 537.3 286.2 532.5C287.1 527.7 288.0 506.9 288.8 502.5C289.5 498.1 289.9 506.5 290.5 506.2C291.1 506.0 291.8 502.9 292.5 501.2C293.2 499.6 293.9 494.4 294.5 496.2C295.1 498.1 295.7 509.4 296.2 512.5C296.8 515.6 297.4 511.5 298.0 515.0C298.6 518.5 299.2 533.8 300.0 533.8C300.8 533.8 301.5 521.9 302.5 515.0C303.5 508.1 305.0 501.5 306.2 492.5C307.5 483.5 308.9 467.1 310.0 461.2C311.1 455.4 312.1 461.5 313.0 457.5C313.9 453.5 314.7 443.5 315.5 437.5C316.3 431.5 317.2 425.0 318.0 421.2C318.8 417.5 319.5 416.8 320.0 415.0C320.5 413.2 320.6 411.0 321.2 410.8C321.9 410.5 323.2 412.3 323.8 413.2C324.3 414.2 324.2 413.0 324.5 416.2C324.8 419.5 325.2 432.3 325.8 432.5C326.2 432.7 326.8 419.0 327.5 417.5C328.2 416.0 329.2 421.7 330.0 423.8C330.8 425.8 331.8 428.1 332.5 430.0C333.2 431.9 333.8 430.6 334.5 435.0C335.2 439.4 335.8 454.2 336.5 456.2C337.2 458.3 337.8 449.8 338.8 447.5C339.7 445.2 341.0 444.8 342.0 442.5C343.0 440.2 344.1 437.5 345.0 433.8C345.9 430.0 346.8 423.1 347.5 420.0C348.2 416.9 349.1 416.1 349.5 415.0C349.9 413.9 349.6 416.7 350.0 413.2C350.4 409.8 351.2 398.2 352.0 394.5C352.8 390.8 353.8 395.1 354.5 390.8C355.2 386.4 355.5 368.5 356.0 368.2C356.5 368.0 357.1 382.6 357.5 389.5C357.9 396.4 358.2 404.4 358.5 409.5C358.8 414.6 359.0 416.8 359.2 420.0C359.5 423.2 359.9 429.2 360.2 428.8C360.6 428.3 360.8 423.6 361.2 417.5C361.7 411.4 362.4 399.6 363.0 392.0C363.6 384.4 364.3 376.2 365.0 372.0C365.7 367.8 366.3 370.1 367.0 367.0C367.7 363.9 368.5 351.2 369.0 353.2C369.5 355.3 369.8 369.2 370.0 379.5C370.2 389.8 370.4 399.1 370.5 415.0C370.6 430.9 370.5 462.9 370.8 475.0C371.1 487.1 371.9 486.9 372.5 487.5C373.1 488.1 374.0 479.8 374.5 478.8C375.0 477.7 375.2 482.1 375.8 481.2C376.2 480.4 376.9 473.5 377.5 473.8C378.1 474.0 378.9 481.2 379.5 482.5C380.1 483.8 380.6 480.6 381.2 481.2C381.9 481.9 382.6 488.3 383.2 486.2C383.9 484.2 384.4 472.1 385.0 468.8C385.6 465.4 386.4 464.8 387.0 466.2C387.6 467.7 388.2 474.8 388.8 477.5C389.2 480.2 389.5 482.7 390.0 482.5C390.5 482.3 391.4 476.5 392.0 476.2C392.6 476.0 393.2 481.9 393.8 481.2C394.3 480.6 394.9 476.9 395.5 472.5C396.1 468.1 396.9 458.1 397.5 455.0C398.1 451.9 398.6 451.5 399.2 453.8C399.9 456.0 400.6 465.8 401.2 468.8C401.9 471.7 402.4 468.1 403.0 471.2C403.6 474.4 404.3 480.6 405.0 487.5C405.7 494.4 406.4 509.8 407.0 512.5C407.6 515.2 408.2 505.4 408.8 503.8C409.3 502.1 409.9 504.2 410.5 502.5C411.1 500.8 411.8 495.0 412.5 493.8C413.2 492.5 413.9 495.6 414.5 495.0C415.1 494.4 415.7 490.6 416.2 490.0C416.8 489.4 417.4 491.7 418.0 491.2C418.6 490.8 419.5 487.7 420.0 487.5C420.5 487.3 420.8 488.1 421.2 490.0C421.8 491.9 422.4 496.7 423.0 498.8C423.6 500.8 424.3 503.1 425.0 502.5C425.7 501.9 426.3 497.5 427.0 495.0C427.7 492.5 428.4 489.2 429.0 487.5C429.6 485.8 430.2 483.1 430.8 485.0C431.3 486.9 431.9 494.4 432.5 498.8C433.1 503.1 433.9 510.0 434.5 511.2C435.1 512.5 435.7 507.3 436.2 506.2C436.8 505.2 437.4 505.8 438.0 505.0C438.6 504.2 439.2 504.6 440.0 501.2C440.8 497.9 441.8 488.5 442.5 485.0C443.2 481.5 443.8 480.6 444.5 480.0C445.2 479.4 446.2 480.8 447.0 481.2C447.8 481.7 448.3 483.3 449.0 482.5C449.7 481.7 450.6 478.3 451.2 476.2C451.9 474.2 452.4 470.8 453.0 470.0C453.6 469.2 454.2 470.4 455.0 471.2C455.8 472.1 456.7 475.4 457.5 475.0C458.3 474.6 459.2 471.9 460.0 468.8C460.8 465.6 461.7 460.0 462.5 456.2C463.3 452.5 464.2 445.8 465.0 446.2C465.8 446.7 466.4 459.4 467.0 458.8C467.6 458.1 468.2 447.9 468.8 442.5C469.3 437.1 469.9 429.4 470.5 426.2C471.1 423.1 471.8 422.7 472.5 423.8C473.2 424.8 473.8 429.8 474.5 432.5C475.2 435.2 476.2 441.0 477.0 440.0C477.8 439.0 478.4 426.2 479.0 426.2C479.6 426.2 480.2 436.0 480.8 440.0C481.3 444.0 481.9 448.1 482.5 450.0C483.1 451.9 483.8 454.8 484.5 451.2C485.2 447.7 485.9 429.4 486.5 428.8C487.1 428.1 487.5 441.7 488.0 447.5C488.5 453.3 489.0 462.9 489.5 463.8C490.0 464.6 490.7 455.8 491.2 452.5C491.8 449.2 492.4 443.5 493.0 443.8C493.6 444.0 494.3 454.0 495.0 453.8C495.7 453.5 496.2 445.0 497.0 442.5C497.8 440.0 498.9 442.1 499.5 438.8C500.1 435.4 500.5 426.5 500.8 422.5C501.0 418.5 501.1 417.4 501.2 415.0C501.4 412.6 501.2 409.4 501.5 408.2C501.8 407.1 502.6 415.1 503.0 408.2C503.4 401.4 503.6 376.8 504.0 367.0C504.4 357.2 504.9 350.3 505.5 349.5C506.1 348.7 506.9 356.2 507.5 362.0C508.1 367.8 508.8 377.0 509.2 384.5C509.7 392.0 509.8 399.8 510.0 407.0C510.2 414.2 510.5 422.0 510.8 427.5C511.0 433.0 510.9 437.5 511.2 440.0C511.6 442.5 512.5 443.5 513.0 442.5C513.5 441.5 514.0 433.5 514.5 433.8C515.0 434.0 515.7 444.2 516.2 443.8C516.8 443.3 517.5 434.2 518.0 431.2C518.5 428.3 519.0 426.0 519.5 426.2C520.0 426.5 520.5 430.0 521.2 432.5C522.0 435.0 523.0 437.3 523.8 441.2C524.5 445.2 524.9 451.7 525.5 456.2C526.1 460.8 526.8 464.4 527.5 468.8C528.2 473.1 528.9 481.9 529.5 482.5C530.1 483.1 530.4 473.8 531.0 472.5C531.6 471.2 532.3 476.9 533.0 475.0C533.7 473.1 534.2 464.0 535.0 461.2C535.8 458.5 536.7 458.5 537.5 458.8C538.3 459.0 539.2 462.5 540.0 462.5C540.8 462.5 541.7 459.6 542.5 458.8C543.3 457.9 544.2 458.3 545.0 457.5C545.8 456.7 546.8 455.8 547.5 453.8C548.2 451.7 548.9 447.9 549.5 445.0C550.1 442.1 550.7 435.8 551.2 436.2C551.8 436.7 552.4 444.6 553.0 447.5C553.6 450.4 554.2 453.1 555.0 453.8C555.8 454.4 556.8 451.0 557.5 451.2C558.2 451.5 559.1 453.7 559.5 455.0C559.9 456.3 559.6 458.9 560.0 459.2C560.4 459.4 561.0 459.3 561.7 456.7C562.4 454.0 563.3 448.1 564.2 443.3C565.0 438.6 566.1 431.7 566.7 428.3C567.2 425.0 567.1 425.4 567.5 423.3C567.9 421.2 568.6 417.2 569.2 415.8C569.7 414.5 570.3 415.1 570.8 415.3C571.4 415.6 571.9 417.0 572.5 417.5C573.1 418.0 573.8 416.0 574.2 418.3C574.5 420.7 574.5 428.3 574.7 431.7C574.8 435.0 574.8 435.4 575.0 438.3C575.2 441.2 575.8 448.3 576.2 449.2C576.6 450.0 577.1 446.2 577.5 443.3C577.9 440.4 578.3 435.0 578.7 431.7C579.0 428.3 579.3 425.6 579.5 423.3C579.7 421.1 579.6 420.6 580.0 418.3C580.4 416.1 581.1 414.2 581.7 410.0C582.2 405.8 582.9 396.2 583.3 393.3C583.8 390.4 583.9 390.3 584.2 392.5C584.4 394.7 584.8 401.7 585.0 406.7C585.2 411.7 585.2 421.4 585.5 422.5C585.8 423.6 586.3 413.2 586.7 413.3C587.0 413.5 587.3 420.8 587.5 423.3C587.7 425.8 587.8 421.1 588.0 428.3C588.2 435.6 588.4 458.4 588.7 466.7C588.9 474.9 589.2 476.1 589.7 478.0C590.2 479.9 591.1 478.8 591.7 478.3C592.2 477.8 592.6 472.1 593.0 475.0C593.4 477.9 593.7 495.8 594.0 495.8C594.3 495.8 594.6 479.2 595.0 475.0C595.4 470.8 595.8 471.1 596.3 470.8C596.8 470.6 597.5 471.5 598.0 473.3C598.5 475.1 598.8 478.1 599.2 481.7C599.6 485.3 599.9 491.1 600.3 495.0C600.8 498.9 601.2 502.5 601.7 505.0C602.1 507.5 602.5 508.1 603.0 510.0C603.5 511.9 604.1 514.4 604.7 516.7C605.3 518.9 606.1 523.4 606.7 523.7C607.3 523.9 607.9 521.7 608.3 518.3C608.8 514.9 609.1 509.7 609.3 503.3C609.6 496.9 609.7 485.3 610.0 480.0C610.3 474.7 610.6 473.5 611.0 471.7C611.4 469.9 612.1 468.9 612.5 469.2C612.9 469.4 613.2 471.5 613.7 473.3C614.1 475.1 614.6 478.5 615.0 480.0C615.4 481.5 615.6 483.6 616.0 482.5C616.4 481.4 616.9 477.4 617.3 473.3C617.7 469.3 618.0 464.7 618.3 458.3C618.7 451.9 619.1 446.4 619.3 435.0C619.6 423.6 619.5 401.1 619.7 390.0C619.8 378.9 620.1 373.2 620.3 368.3C620.6 363.5 621.0 360.6 621.3 360.8C621.7 361.1 622.0 367.9 622.3 370.0C622.7 372.1 623.0 376.7 623.3 373.3C623.7 370.0 624.0 354.7 624.3 350.0C624.7 345.3 625.0 345.1 625.3 345.0C625.7 344.9 626.0 349.2 626.3 349.2C626.7 349.1 627.1 344.8 627.5 344.7C627.9 344.5 628.2 346.3 628.7 348.3C629.1 350.3 629.6 354.4 630.0 356.7C630.4 358.9 630.9 362.8 631.3 361.7C631.8 360.6 632.1 359.5 632.5 350.0C632.9 340.5 633.2 315.0 633.8 304.5C634.3 294.0 635.4 286.6 636.0 287.0C636.6 287.4 637.1 302.7 637.5 307.0C637.9 311.3 638.2 313.0 638.5 313.0C638.8 313.0 639.2 303.3 639.5 307.0C639.8 310.7 640.2 326.7 640.4 335.0C640.5 343.3 640.4 347.5 640.5 356.7C640.6 365.8 640.9 370.8 641.0 390.0C641.1 409.2 641.1 455.6 641.3 471.7C641.6 487.8 642.0 483.3 642.5 486.7C643.0 490.0 643.6 491.2 644.2 491.7C644.7 492.1 645.3 491.7 645.8 489.2C646.4 486.7 646.9 480.7 647.5 476.7C648.1 472.6 648.7 467.8 649.2 465.0C649.6 462.2 649.9 459.4 650.3 460.0C650.8 460.6 651.2 465.3 651.7 468.3C652.2 471.4 652.7 475.0 653.3 478.3C653.9 481.7 654.8 488.1 655.3 488.3C655.9 488.6 656.2 483.3 656.7 480.0C657.1 476.7 657.6 471.5 658.0 468.3C658.4 465.1 658.8 460.6 659.2 460.8C659.6 461.1 660.0 467.1 660.3 470.0C660.6 472.9 660.7 480.3 661.0 478.3C661.3 476.4 661.8 465.8 662.0 458.3C662.2 450.8 662.2 440.6 662.3 433.3C662.4 426.1 662.6 419.4 662.7 415.0C662.8 410.6 662.8 408.8 663.0 406.7C663.2 404.5 663.8 402.0 664.2 402.0C664.6 402.0 664.9 405.1 665.3 406.7C665.8 408.3 666.2 410.6 666.7 411.7C667.2 412.8 667.9 411.4 668.3 413.3C668.8 415.3 669.2 420.8 669.5 423.3C669.8 425.8 670.0 425.3 670.3 428.3C670.6 431.4 671.0 436.7 671.3 441.7C671.7 446.7 672.0 454.3 672.5 458.3C673.0 462.4 673.6 465.8 674.2 465.8C674.7 465.8 675.3 461.8 675.8 458.3C676.4 454.9 676.9 447.8 677.5 445.0C678.1 442.2 678.7 440.8 679.2 441.7C679.6 442.5 679.9 447.8 680.3 450.0C680.8 452.2 681.2 453.8 681.7 455.0C682.1 456.2 682.6 459.7 683.0 457.5C683.4 455.3 683.9 446.5 684.2 441.7C684.4 436.8 684.4 433.6 684.5 428.3C684.6 423.1 684.8 414.6 685.0 410.0C685.2 405.4 685.5 402.7 685.8 400.8C686.2 398.9 686.6 398.5 687.0 398.7C687.4 398.8 687.9 399.5 688.3 401.7C688.8 403.8 689.2 409.2 689.7 411.7C690.1 414.2 690.4 415.0 690.8 416.7C691.2 418.3 691.6 420.0 692.0 421.7C692.4 423.3 693.0 424.4 693.3 426.7C693.7 428.9 693.8 432.2 694.2 435.0C694.5 437.8 695.0 441.7 695.3 443.3C695.7 445.0 696.0 446.4 696.3 445.0C696.7 443.6 697.1 437.9 697.5 435.0C697.9 432.1 698.3 428.3 698.7 427.5C699.0 426.7 699.3 428.5 699.7 430.0C700.0 431.5 700.4 435.0 700.8 436.7C701.3 438.3 701.9 439.2 702.5 440.0C703.1 440.8 703.7 440.0 704.2 441.7C704.6 443.3 705.0 446.5 705.3 450.0C705.7 453.5 706.0 460.0 706.3 462.5C706.7 465.0 706.9 465.4 707.3 465.0C707.7 464.6 708.2 462.8 708.7 460.0C709.1 457.2 709.4 450.8 710.0 448.3C710.6 445.8 711.4 446.4 712.0 445.0C712.6 443.6 713.0 442.5 713.3 440.0C713.7 437.5 713.8 433.6 714.2 430.0C714.6 426.4 715.3 422.2 715.8 418.3C716.4 414.4 716.9 410.8 717.5 406.7C718.1 402.5 718.6 396.2 719.2 393.3C719.7 390.4 720.3 390.3 720.8 389.2C721.4 388.1 721.9 388.8 722.5 386.7C723.1 384.6 723.7 380.3 724.2 376.7C724.6 373.1 725.0 367.6 725.3 365.0C725.7 362.4 726.0 359.4 726.3 360.8C726.7 362.2 727.0 368.5 727.3 373.3C727.7 378.2 728.0 385.0 728.3 390.0C728.6 395.0 728.9 399.4 729.2 403.3C729.4 407.2 729.6 410.8 730.0 413.3C730.4 415.8 730.8 418.3 731.3 418.3C731.9 418.3 732.7 414.3 733.3 413.3C733.9 412.4 734.4 413.6 735.0 412.5C735.6 411.4 736.1 408.3 736.7 406.7C737.2 405.0 737.8 403.3 738.3 402.5C738.8 401.7 739.1 401.8 739.7 401.7C740.3 401.6 741.4 404.4 742.0 402.0C742.6 399.6 742.8 390.1 743.2 387.0C743.8 383.9 744.4 383.9 745.0 383.2C745.6 382.6 746.4 382.2 747.0 383.2C747.6 384.3 748.2 386.0 748.5 389.5C748.8 393.0 748.8 397.8 749.0 404.5C749.2 411.2 749.4 423.9 749.5 430.0C749.6 436.1 749.5 439.6 749.8 441.2C750.2 442.9 751.6 440.6 752.5 440.0C753.4 439.4 754.2 440.2 755.0 437.5C755.8 434.8 756.2 426.0 757.0 423.8C757.8 421.5 758.8 422.1 759.5 423.8C760.2 425.4 760.7 430.0 761.2 433.8C761.8 437.5 762.4 445.4 763.0 446.2C763.6 447.1 764.2 440.4 765.0 438.8C765.8 437.1 766.8 438.1 767.5 436.2C768.2 434.4 768.5 428.8 769.0 427.5C769.5 426.2 770.0 421.7 770.5 428.8C771.0 435.8 771.5 464.2 772.0 470.0C772.5 475.8 773.2 464.0 773.8 463.8C774.3 463.5 774.9 468.8 775.5 468.8C776.1 468.8 776.8 465.8 777.5 463.8C778.2 461.7 779.2 457.9 780.0 456.2C780.8 454.6 781.7 455.6 782.5 453.8C783.3 451.9 784.2 447.5 785.0 445.0C785.8 442.5 786.7 440.8 787.5 438.8C788.3 436.7 789.2 433.1 790.0 432.5C790.8 431.9 791.8 433.3 792.5 435.0C793.2 436.7 793.8 442.7 794.5 442.5C795.2 442.3 796.3 436.5 797.0 433.8C797.7 431.0 798.2 429.0 798.8 426.2C799.2 423.5 799.5 420.7 800.0 417.5C800.5 414.3 801.4 412.9 802.0 407.0C802.6 401.1 803.2 391.2 803.8 382.0C804.2 372.8 804.5 360.5 805.0 352.0C805.5 343.5 806.2 331.2 806.8 330.8C807.3 330.3 807.7 343.5 808.2 349.5C808.8 355.5 809.5 361.2 810.0 367.0C810.5 372.8 810.8 378.2 811.2 384.5C811.7 390.8 812.1 401.6 812.5 404.5C812.9 407.4 813.4 400.8 813.8 402.0C814.1 403.2 814.3 407.3 814.5 412.0C814.7 416.7 814.6 423.0 814.8 430.0C814.9 437.0 815.0 452.5 815.5 453.8C816.0 455.0 816.8 439.0 817.5 437.5C818.2 436.0 818.9 441.2 819.5 445.0C820.1 448.8 820.7 457.7 821.2 460.0C821.8 462.3 822.4 456.7 823.0 458.8C823.6 460.8 824.3 466.0 825.0 472.5C825.7 479.0 826.4 489.0 827.0 497.5C827.6 506.0 828.2 519.2 828.8 523.8C829.3 528.3 830.0 525.2 830.5 525.0C831.0 524.8 831.5 521.7 832.0 522.5C832.5 523.3 833.2 528.3 833.8 530.0C834.3 531.7 835.0 534.2 835.5 532.5C836.0 530.8 836.6 527.1 837.0 520.0C837.4 512.9 837.6 500.0 838.0 490.0C838.4 480.0 839.0 468.3 839.5 460.0C840.0 451.7 840.5 443.8 841.0 440.0C841.5 436.2 842.0 440.0 842.5 437.5C843.0 435.0 843.6 428.3 844.0 425.0C844.4 421.7 844.6 418.1 845.0 417.5C845.4 416.9 846.1 421.7 846.5 421.2C846.9 420.8 847.1 418.2 847.5 415.0C847.9 411.8 848.2 406.2 848.8 402.0C849.2 397.8 849.9 391.9 850.5 389.5C851.1 387.1 851.8 388.0 852.5 387.8C853.2 387.5 853.9 385.7 854.5 388.2C855.1 390.8 855.5 401.0 856.0 403.2C856.5 405.5 857.0 400.0 857.5 402.0C858.0 404.0 858.6 411.4 859.0 415.0C859.4 418.6 859.6 421.9 860.0 423.8C860.4 425.6 861.0 424.2 861.5 426.2C862.0 428.3 862.4 435.6 863.0 436.2C863.6 436.9 864.3 430.4 865.0 430.0C865.7 429.6 866.3 434.4 867.0 433.8C867.7 433.1 868.4 428.8 869.0 426.2C869.6 423.8 869.9 419.8 870.5 418.8C871.1 417.7 871.8 420.2 872.5 420.0C873.2 419.8 873.9 418.2 874.5 417.5C875.1 416.8 875.6 416.1 876.0 415.5C876.4 414.9 876.6 413.9 877.0 414.0C877.4 414.1 878.0 411.1 878.5 416.2C879.0 421.4 879.5 435.8 880.0 445.0C880.5 454.2 881.0 466.6 881.5 471.2C882.0 475.9 882.5 473.0 883.0 473.0C883.5 473.0 884.0 470.9 884.5 471.2C885.0 471.6 885.5 474.2 886.0 475.0C886.5 475.8 886.9 475.0 887.5 476.2C888.1 477.5 888.9 479.8 889.5 482.5C890.1 485.2 890.5 488.3 891.0 492.5C891.5 496.7 892.0 507.1 892.5 507.5C893.0 507.9 893.6 495.4 894.0 495.0C894.4 494.6 894.6 504.0 895.0 505.0C895.4 506.0 896.0 503.3 896.5 501.2C897.0 499.2 897.5 495.0 898.0 492.5C898.5 490.0 899.0 487.7 899.5 486.2C900.0 484.8 900.5 481.9 901.0 483.8C901.5 485.6 902.0 494.8 902.5 497.5C903.0 500.2 903.5 497.7 904.0 500.0C904.5 502.3 905.0 508.3 905.5 511.2C906.0 514.2 906.2 517.5 906.8 517.5C907.3 517.5 908.1 512.5 908.8 511.2C909.4 510.0 910.0 510.0 910.5 510.0C911.0 510.0 911.5 512.3 912.0 511.2C912.5 510.2 913.2 505.6 913.8 503.8C914.3 501.9 914.9 501.2 915.5 500.0C916.1 498.8 916.9 497.7 917.5 496.2C918.1 494.8 918.6 492.7 919.2 491.2C919.9 489.8 920.6 487.5 921.2 487.5C921.9 487.5 922.5 490.2 923.0 491.2C923.5 492.3 924.0 493.8 924.5 493.8C925.0 493.8 925.7 491.0 926.2 491.2C926.8 491.5 927.5 493.5 928.0 495.0C928.5 496.5 929.0 498.7 929.5 500.0C930.0 501.3 930.5 503.4 931.0 503.0C931.5 502.6 931.9 498.6 932.5 497.5C933.1 496.4 933.9 497.5 934.5 496.2C935.1 495.0 935.7 491.7 936.2 490.0C936.8 488.3 937.4 487.4 938.0 486.2C938.6 485.1 939.4 482.8 940.0 483.0C940.6 483.2 941.0 485.5 941.5 487.5C942.0 489.5 942.5 494.2 943.0 495.0C943.5 495.8 944.0 491.9 944.5 492.5C945.0 493.1 945.7 497.5 946.2 498.8C946.8 500.0 947.4 500.6 948.0 500.0C948.6 499.4 949.3 496.0 950.0 495.0C950.7 494.0 951.4 495.2 952.0 493.8C952.6 492.3 953.0 487.7 953.5 486.2C954.0 484.8 954.4 484.0 955.0 485.0C955.6 486.0 956.4 491.9 957.0 492.5C957.6 493.1 957.9 489.6 958.5 488.8C959.1 487.9 959.8 487.1 960.5 487.5C961.2 487.9 961.9 491.0 962.5 491.2C963.1 491.5 963.5 489.4 964.0 488.8C964.5 488.1 964.9 486.5 965.5 487.5C966.1 488.5 966.9 495.0 967.5 495.0C968.1 495.0 968.5 489.9 969.0 487.5C969.5 485.1 970.0 480.7 970.5 480.5C971.0 480.3 971.5 484.2 972.0 486.2C972.5 488.2 973.0 490.4 973.5 492.5C974.0 494.6 974.5 496.2 975.0 498.8C975.5 501.2 975.8 504.6 976.2 507.5C976.7 510.4 977.0 514.2 977.5 516.2C978.0 518.3 978.5 520.4 979.0 520.0C979.5 519.6 980.0 514.8 980.5 513.8C981.0 512.7 981.5 513.3 982.0 513.8C982.5 514.2 983.0 515.0 983.5 516.2C984.0 517.5 984.5 519.6 985.0 521.2C985.5 522.9 986.0 525.0 986.5 526.2C987.0 527.5 987.5 530.2 988.0 528.8C988.5 527.3 989.1 521.9 989.5 517.5C989.9 513.1 990.0 505.2 990.5 502.5C991.0 499.8 991.8 501.5 992.5 501.2C993.2 501.0 993.9 501.9 994.5 501.2C995.1 500.6 995.7 499.2 996.2 497.5C996.8 495.8 997.4 493.1 998.0 491.2C998.6 489.4 999.3 487.3 1000.0 486.2C1000.7 485.2 1001.4 484.8 1002.0 485.0C1002.6 485.2 1003.2 486.5 1003.8 487.5C1004.3 488.5 1005.0 490.4 1005.5 491.2C1006.0 492.1 1006.5 493.8 1007.0 492.5C1007.5 491.2 1008.0 486.9 1008.5 483.8C1009.0 480.6 1009.4 477.7 1010.0 473.8C1010.6 469.8 1011.4 463.8 1012.0 460.0C1012.6 456.2 1013.2 453.5 1013.8 451.2C1014.3 449.0 1014.9 446.7 1015.5 446.2C1016.1 445.8 1016.8 449.8 1017.5 448.8C1018.2 447.7 1018.9 441.7 1019.5 440.0C1020.1 438.3 1020.7 438.1 1021.2 438.8C1021.8 439.4 1022.4 444.0 1023.0 443.8C1023.6 443.5 1024.3 439.4 1025.0 437.5C1025.7 435.6 1026.4 434.4 1027.0 432.5C1027.6 430.6 1028.2 429.2 1028.8 426.2C1029.2 423.3 1029.7 417.5 1030.0 415.0C1030.3 412.5 1030.2 409.0 1030.5 411.5C1030.8 414.0 1031.1 423.6 1031.5 430.0C1031.9 436.4 1032.5 444.8 1033.0 450.0C1033.5 455.2 1034.0 459.0 1034.5 461.2C1035.0 463.5 1035.7 462.5 1036.2 463.8C1036.8 465.0 1037.5 466.7 1038.0 468.8C1038.5 470.8 1038.9 474.3 1039.5 476.2C1040.1 478.2 1040.9 479.7 1041.5 480.5C1042.1 481.3 1042.8 480.9 1043.0 481.0" fill="none" stroke="#2f4554" stroke-width="2" stroke-linejoin="round" stroke-linecap="round"/>
<path d="M458.2 527.5C458.5 525.2 459.3 516.9 460.0 513.8C460.7 510.6 461.8 508.1 462.5 508.8C463.2 509.4 463.5 514.2 464.0 517.5C464.5 520.8 465.2 530.4 465.8 528.8C466.2 527.1 466.5 512.5 467.0 507.5C467.5 502.5 468.0 501.7 468.8 498.8C469.5 495.8 470.4 491.2 471.2 490.0C472.1 488.8 472.9 490.2 473.8 491.2C474.6 492.3 475.4 496.5 476.2 496.2C477.1 496.0 477.9 490.3 478.8 490.0C479.6 489.7 480.4 494.1 481.2 494.5C482.1 494.9 482.9 493.7 483.8 492.5C484.6 491.3 485.4 488.5 486.2 487.5C487.1 486.5 487.9 488.1 488.8 486.2C489.6 484.4 490.4 477.5 491.2 476.2C492.1 475.0 492.9 479.2 493.8 478.8C494.6 478.3 495.4 474.2 496.2 473.8C497.1 473.3 498.0 476.5 498.8 476.2C499.5 476.0 499.9 476.5 500.5 472.5C501.1 468.5 501.8 460.0 502.5 452.5C503.2 445.0 503.9 432.8 504.5 427.5C505.1 422.2 505.7 420.1 506.2 420.5C506.8 420.9 507.4 424.7 508.0 430.0C508.6 435.3 509.3 448.3 510.0 452.5C510.7 456.7 511.4 455.4 512.0 455.0C512.6 454.6 513.0 449.6 513.8 450.0C514.5 450.4 515.5 458.3 516.2 457.5C517.0 456.7 517.4 446.9 518.0 445.0C518.6 443.1 519.3 445.6 520.0 446.2C520.7 446.9 521.2 447.7 522.0 448.8C522.8 449.8 523.6 450.6 524.5 452.5C525.4 454.4 526.7 457.3 527.5 460.0C528.3 462.7 528.8 468.8 529.5 468.8C530.2 468.8 531.2 461.7 532.0 460.0C532.8 458.3 533.8 460.4 534.5 458.8C535.2 457.1 535.7 451.0 536.2 450.0C536.8 449.0 537.4 452.5 538.0 452.5C538.6 452.5 539.3 450.0 540.0 450.0C540.7 450.0 541.2 453.1 542.0 452.5C542.8 451.9 543.6 447.5 544.5 446.2C545.4 445.0 546.7 445.4 547.5 445.0C548.3 444.6 549.0 446.9 549.5 443.8C550.0 440.6 550.0 429.0 550.5 426.2C551.0 423.5 551.8 426.7 552.5 427.5C553.2 428.3 553.9 431.2 554.5 431.2C555.1 431.2 555.6 427.5 556.2 427.5C556.9 427.5 557.6 430.3 558.2 431.2C558.9 432.2 559.4 433.5 560.0 433.3C560.6 433.1 561.1 431.7 561.7 430.0C562.2 428.3 562.8 426.1 563.3 423.3C563.9 420.6 564.4 416.1 565.0 413.3C565.6 410.6 566.1 408.6 566.7 406.7C567.2 404.7 567.8 402.6 568.3 401.7C568.9 400.7 569.4 400.7 570.0 400.8C570.6 401.0 571.1 402.4 571.7 402.5C572.2 402.6 572.8 401.0 573.3 401.7C573.8 402.4 574.2 405.0 574.7 406.7C575.1 408.3 575.5 411.9 576.0 411.7C576.5 411.4 577.0 408.6 577.5 405.0C578.0 401.4 578.6 394.4 579.2 390.0C579.7 385.6 580.3 382.1 580.8 378.3C581.4 374.6 582.1 369.6 582.5 367.5C582.9 365.4 583.0 364.3 583.3 365.8C583.6 367.4 584.0 372.6 584.3 376.7C584.7 380.7 585.0 388.9 585.3 390.0C585.7 391.1 586.0 382.5 586.3 383.3C586.7 384.2 587.2 389.7 587.5 395.0C587.8 400.3 588.1 408.6 588.3 415.0C588.6 421.4 588.9 429.7 589.2 433.3C589.4 436.9 589.5 436.4 590.0 436.7C590.5 436.9 591.4 433.6 592.0 435.0C592.6 436.4 593.0 442.2 593.3 445.0C593.7 447.8 593.8 453.3 594.2 451.7C594.5 450.0 595.0 439.0 595.3 435.0C595.7 431.0 596.0 428.9 596.3 427.5C596.7 426.1 597.1 425.7 597.5 426.7C597.9 427.6 598.2 430.6 598.7 433.3C599.1 436.1 599.5 439.7 600.0 443.3C600.5 446.9 601.1 451.9 601.7 455.0C602.2 458.1 602.8 459.4 603.3 461.7C603.9 463.9 604.4 466.0 605.0 468.3C605.6 470.7 606.2 475.0 606.7 475.8C607.2 476.7 607.6 476.2 608.0 473.3C608.4 470.4 608.8 463.1 609.2 458.3C609.5 453.6 609.6 448.2 610.0 445.0C610.4 441.8 610.8 440.3 611.3 439.2C611.8 438.1 612.5 437.9 613.0 438.3C613.5 438.8 613.9 440.3 614.3 441.7C614.8 443.1 615.4 445.6 615.8 446.7C616.3 447.8 616.6 449.7 617.0 448.3C617.4 446.9 617.7 441.7 618.0 438.3C618.3 435.0 618.6 430.8 618.8 428.3C619.1 425.8 619.3 425.6 619.5 423.3C619.7 421.1 619.8 418.6 620.0 415.0C620.2 411.4 620.7 401.9 621.0 401.7C621.3 401.4 621.7 410.8 622.0 413.3C622.3 415.8 622.6 418.1 623.0 416.7C623.4 415.3 623.9 407.6 624.3 405.0C624.7 402.4 624.9 400.8 625.3 400.8C625.7 400.8 626.2 405.1 626.7 405.0C627.1 404.9 627.6 400.3 628.0 400.0C628.4 399.7 628.7 401.7 629.2 403.3C629.6 405.0 630.4 409.7 630.8 410.0C631.3 410.3 631.6 408.6 632.0 405.0C632.4 401.4 632.9 394.2 633.3 388.3C633.8 382.5 634.2 374.9 634.7 370.0C635.1 365.1 635.4 361.1 635.8 359.2C636.2 357.2 636.6 355.7 637.0 358.3C637.4 361.0 637.6 373.3 638.0 375.0C638.4 376.7 638.8 371.4 639.2 368.3C639.6 365.3 640.0 359.0 640.3 356.7C640.7 354.3 641.0 353.3 641.3 354.2C641.7 355.0 642.0 357.9 642.3 361.7C642.7 365.4 642.9 372.6 643.3 376.7C643.7 380.7 644.2 385.6 644.7 385.8C645.1 386.1 645.4 381.5 645.8 378.3C646.2 375.1 646.6 369.7 647.0 366.7C647.4 363.6 647.8 361.7 648.3 360.0C648.8 358.3 649.5 356.4 650.0 356.7C650.5 356.9 650.9 358.9 651.3 361.7C651.8 364.4 652.0 368.9 652.5 373.3C653.0 377.8 653.7 384.9 654.2 388.3C654.7 391.8 655.1 394.4 655.5 394.2C655.9 393.9 656.2 390.1 656.7 386.7C657.1 383.2 657.6 376.2 658.0 373.3C658.4 370.4 658.9 368.6 659.3 369.2C659.7 369.7 660.0 373.5 660.3 376.7C660.7 379.9 661.0 384.7 661.3 388.3C661.7 391.9 662.1 395.8 662.5 398.3C662.9 400.8 663.2 402.6 663.7 403.3C664.1 404.1 664.5 402.7 665.0 403.0C665.5 403.3 666.1 404.1 666.7 405.0C667.2 405.9 667.8 406.4 668.3 408.3C668.8 410.3 669.2 413.9 669.7 416.7C670.1 419.4 670.4 422.5 670.8 425.0C671.2 427.5 671.6 428.9 672.0 431.7C672.4 434.4 672.8 439.7 673.3 441.7C673.8 443.6 674.5 444.4 675.0 443.3C675.5 442.2 675.8 437.6 676.3 435.0C676.8 432.4 677.5 429.0 678.0 427.5C678.5 426.0 678.9 425.1 679.3 425.8C679.8 426.5 680.4 429.9 680.8 431.7C681.3 433.5 681.6 436.9 682.0 436.7C682.4 436.4 682.8 431.7 683.3 430.0C683.8 428.3 684.4 427.6 685.0 426.7C685.6 425.7 686.1 423.6 686.7 424.2C687.2 424.7 687.8 428.3 688.3 430.0C688.9 431.7 689.4 432.8 690.0 434.2C690.6 435.6 691.1 437.1 691.7 438.3C692.2 439.6 692.8 440.0 693.3 441.7C693.8 443.3 694.2 446.1 694.7 448.3C695.1 450.6 695.4 454.4 695.8 455.0C696.2 455.6 696.6 453.3 697.0 451.7C697.4 450.0 697.9 446.4 698.3 445.0C698.8 443.6 699.2 442.8 699.7 443.3C700.1 443.9 700.5 446.9 701.0 448.3C701.5 449.7 702.0 451.2 702.7 451.7C703.3 452.1 704.2 451.2 705.0 450.8C705.8 450.4 706.7 449.7 707.5 449.2C708.3 448.6 709.3 448.2 710.0 447.5C710.7 446.8 711.1 446.0 711.7 445.0C712.2 444.0 712.8 443.3 713.3 441.7C713.9 440.0 714.4 437.2 715.0 435.0C715.6 432.8 716.2 430.8 716.7 428.3C717.1 425.8 717.1 422.2 717.5 420.0C717.9 417.8 718.6 416.0 719.2 415.0C719.7 414.0 720.3 415.0 720.8 414.2C721.4 413.3 721.9 411.8 722.5 410.0C723.1 408.2 723.7 405.6 724.2 403.3C724.6 401.1 725.0 398.3 725.3 396.7C725.7 395.0 726.0 392.8 726.3 393.3C726.7 393.9 727.0 397.2 727.3 400.0C727.7 402.8 727.9 406.9 728.3 410.0C728.7 413.1 729.2 417.2 729.7 418.3C730.1 419.4 730.4 417.5 730.8 416.7C731.3 415.8 731.9 413.8 732.5 413.3C733.1 412.9 733.6 414.4 734.2 414.2C734.7 413.9 735.3 412.9 735.8 411.7C736.4 410.4 736.9 407.8 737.5 406.7C738.1 405.6 738.5 405.8 739.2 405.0C739.8 404.2 740.6 403.3 741.2 402.0C741.9 400.7 742.4 398.9 743.0 397.0C743.6 395.1 744.3 391.6 745.0 390.8C745.7 389.9 746.4 391.0 747.0 392.0C747.6 393.0 747.9 396.4 748.5 397.0C749.1 397.6 749.6 396.0 750.5 395.8C751.4 395.5 752.8 396.8 753.8 395.8C754.7 394.7 755.5 391.6 756.2 389.5C757.0 387.4 757.4 385.3 758.0 383.2C758.6 381.2 759.3 376.8 760.0 377.0C760.7 377.2 761.5 382.4 762.0 384.5C762.5 386.6 762.8 390.1 763.2 389.5C763.8 388.9 764.4 382.0 765.0 380.8C765.6 379.5 766.4 383.2 767.0 382.0C767.6 380.8 768.0 375.1 768.8 373.2C769.5 371.4 770.5 372.4 771.2 370.8C772.0 369.1 772.4 363.5 773.0 363.2C773.6 363.0 774.3 369.7 775.0 369.5C775.7 369.3 776.2 364.7 777.0 362.0C777.8 359.3 779.1 355.8 780.0 353.2C780.9 350.8 781.7 349.7 782.5 347.0C783.3 344.3 784.2 340.8 785.0 337.0C785.8 333.2 786.8 327.2 787.5 324.5C788.2 321.8 788.8 320.5 789.5 320.8C790.2 321.0 791.2 325.8 792.0 325.8C792.8 325.8 793.6 323.0 794.5 320.8C795.4 318.5 796.6 316.4 797.5 312.0C798.4 307.6 799.2 300.3 800.0 294.5C800.8 288.7 801.9 284.4 802.5 277.0C803.1 269.6 803.3 260.3 803.8 250.0C804.2 239.7 804.5 226.0 805.0 215.0C805.5 204.0 806.2 184.6 806.8 183.8C807.2 182.9 807.5 203.5 808.0 210.0C808.5 216.5 809.1 219.6 809.5 222.5C809.9 225.4 810.1 221.2 810.5 227.5C810.9 233.8 811.4 251.5 811.8 260.0C812.1 268.5 812.2 277.1 812.5 278.8C812.8 280.4 813.3 269.4 813.8 270.0C814.2 270.6 814.6 282.9 815.0 282.5C815.4 282.1 815.8 272.7 816.2 267.5C816.7 262.3 817.1 252.9 817.5 251.2C817.9 249.6 818.3 253.5 818.8 257.5C819.2 261.5 819.6 270.2 820.0 275.0C820.4 279.8 820.8 283.6 821.0 286.2C821.2 288.9 821.0 290.2 821.2 290.8C821.6 291.3 822.5 286.8 823.0 289.5C823.5 292.2 824.0 298.2 824.5 307.0C825.0 315.8 825.7 330.3 826.2 342.0C826.8 353.7 827.5 368.2 828.0 377.0C828.5 385.8 829.0 392.4 829.5 394.5C830.0 396.6 830.7 388.2 831.2 389.5C831.8 390.8 832.4 398.8 833.0 402.0C833.6 405.2 834.3 409.8 835.0 409.0C835.7 408.2 836.4 402.8 837.0 397.0C837.6 391.2 838.0 382.8 838.5 374.5C839.0 366.2 839.4 352.8 840.0 347.0C840.6 341.2 841.4 343.2 842.0 339.5C842.6 335.8 843.2 328.5 843.8 324.5C844.2 320.5 844.5 316.0 845.0 315.8C845.5 315.5 846.0 324.5 846.5 323.2C847.0 322.0 847.4 312.0 848.0 308.2C848.6 304.5 849.3 302.3 850.0 300.8C850.7 299.2 851.4 299.2 852.0 299.0C852.6 298.8 853.2 296.1 853.8 299.5C854.3 302.9 854.9 317.6 855.5 319.5C856.1 321.4 856.8 312.9 857.5 310.8C858.2 308.6 858.9 306.7 859.5 306.5C860.1 306.3 860.7 306.7 861.2 309.5C861.8 312.3 862.4 322.0 863.0 323.2C863.6 324.5 864.3 319.3 865.0 317.0C865.7 314.7 866.4 309.9 867.0 309.5C867.6 309.1 868.2 317.0 868.8 314.5C869.3 312.0 869.9 299.3 870.5 294.5C871.1 289.7 871.8 287.4 872.5 285.8C873.2 284.1 873.9 285.3 874.5 284.5C875.1 283.7 875.5 281.6 876.2 280.8C877.0 279.9 877.9 280.1 878.8 279.5C879.6 278.9 880.4 277.5 881.2 277.0C882.1 276.5 883.0 275.7 883.8 276.5C884.5 277.3 885.0 279.4 885.5 282.0C886.0 284.6 886.5 290.1 887.0 292.0C887.5 293.9 888.2 290.3 888.8 293.2C889.2 296.2 889.5 302.6 890.0 309.5C890.5 316.4 891.1 327.6 891.5 334.5C891.9 341.4 892.1 352.4 892.5 350.8C892.9 349.1 893.5 326.0 894.0 324.5C894.5 323.0 895.0 339.5 895.5 342.0C896.0 344.5 896.5 342.2 897.0 339.5C897.5 336.8 898.0 330.3 898.5 325.8C899.0 321.2 899.5 316.0 900.0 312.0C900.5 308.0 901.0 301.6 901.5 302.0C902.0 302.4 902.5 313.5 903.0 314.5C903.5 315.5 904.0 305.8 904.5 308.2C905.0 310.8 905.6 324.5 906.0 329.5C906.4 334.5 906.5 338.7 907.0 338.2C907.5 337.8 908.2 329.3 908.8 327.0C909.3 324.7 910.0 324.5 910.5 324.5C911.0 324.5 911.5 329.1 912.0 327.0C912.5 324.9 913.2 316.2 913.8 312.0C914.3 307.8 914.9 304.7 915.5 302.0C916.1 299.3 916.9 298.5 917.5 295.8C918.1 293.0 918.6 288.9 919.2 285.8C919.9 282.6 920.6 277.4 921.2 277.0C921.9 276.6 922.5 280.8 923.0 283.2C923.5 285.8 924.0 291.2 924.5 292.0C925.0 292.8 925.7 288.0 926.2 288.2C926.8 288.5 927.5 290.5 928.0 293.2C928.5 296.0 929.1 301.4 929.5 304.5C929.9 307.6 930.1 312.6 930.5 312.0C930.9 311.4 931.5 303.0 932.0 300.8C932.5 298.5 933.2 300.1 933.8 298.2C934.3 296.4 934.9 292.0 935.5 289.5C936.1 287.0 936.8 285.5 937.5 283.2C938.2 281.0 938.9 276.0 939.5 275.8C940.1 275.5 940.7 278.7 941.2 282.0C941.8 285.3 942.5 295.1 943.0 295.8C943.5 296.4 944.0 286.0 944.5 285.8C945.0 285.5 945.7 292.8 946.2 294.5C946.8 296.2 947.4 297.0 948.0 295.8C948.6 294.5 949.3 288.9 950.0 287.0C950.7 285.1 951.5 286.6 952.0 284.5C952.5 282.4 953.0 277.8 953.2 274.5C953.5 271.2 953.4 266.3 953.8 264.5C954.1 262.7 955.0 260.3 955.5 263.8C956.0 267.2 956.5 282.9 957.0 285.0C957.5 287.1 958.2 278.3 958.8 276.2C959.2 274.2 959.4 272.3 960.0 272.5C960.6 272.7 961.8 278.3 962.5 277.5C963.2 276.7 963.9 270.0 964.5 267.5C965.1 265.0 965.7 263.5 966.2 262.5C966.8 261.5 967.5 265.0 968.0 261.2C968.5 257.5 968.8 246.5 969.2 240.0C969.7 233.5 970.0 224.2 970.5 222.5C971.0 220.8 971.5 225.8 972.0 230.0C972.5 234.2 973.2 241.7 973.8 247.5C974.3 253.3 975.0 259.6 975.5 265.0C976.0 270.4 976.7 275.5 977.0 280.0C977.0 284.5 977.0 288.5 977.0 292.0C977.2 295.5 977.4 297.6 977.8 300.8C978.1 303.9 978.5 312.4 979.0 310.8C979.5 309.1 980.0 294.3 980.5 290.8C981.0 287.2 981.5 288.5 982.0 289.5C982.5 290.5 983.0 292.4 983.5 297.0C984.0 301.6 984.5 312.0 985.0 317.0C985.5 322.0 986.0 324.4 986.5 327.0C987.0 329.6 987.5 334.6 988.0 332.5C988.5 330.4 989.0 318.5 989.5 314.5C990.0 310.5 990.7 308.9 991.2 308.2C991.8 307.6 992.5 310.1 993.0 310.8C993.5 311.4 994.0 312.8 994.5 312.0C995.0 311.2 995.7 308.9 996.2 305.8C996.8 302.6 997.4 296.8 998.0 293.2C998.6 289.7 999.3 286.4 1000.0 284.5C1000.7 282.6 1001.4 281.8 1002.0 282.0C1002.6 282.2 1003.2 284.1 1003.8 285.8C1004.3 287.4 1005.0 290.1 1005.5 292.0C1006.0 293.9 1006.3 298.9 1006.8 297.0C1007.2 295.1 1007.8 284.1 1008.2 280.8C1008.8 277.4 1009.4 278.4 1009.8 277.0C1010.1 275.6 1010.0 274.1 1010.5 272.5C1011.0 270.9 1011.8 270.0 1012.5 267.5C1013.2 265.0 1014.0 260.0 1014.5 257.5C1015.0 255.0 1015.2 255.0 1015.8 252.5C1016.2 250.0 1017.0 246.2 1017.5 242.5C1018.0 238.8 1018.2 232.9 1018.8 230.0C1019.2 227.1 1019.9 225.2 1020.5 225.0C1021.1 224.8 1021.8 229.6 1022.5 228.8C1023.2 227.9 1023.9 223.1 1024.5 220.0C1025.1 216.9 1025.7 213.3 1026.2 210.0C1026.8 206.7 1027.5 205.4 1028.0 200.0C1028.5 194.6 1028.7 183.3 1029.0 177.5C1029.3 171.7 1029.6 164.6 1030.0 165.0C1030.4 165.4 1030.8 175.4 1031.2 180.0C1031.7 184.6 1032.1 189.4 1032.5 192.5C1032.9 195.6 1033.3 198.8 1033.8 198.8C1034.2 198.8 1034.6 193.8 1035.0 192.5C1035.4 191.2 1035.8 190.0 1036.2 191.2C1036.8 192.5 1037.5 196.5 1038.0 200.0C1038.5 203.5 1039.0 209.2 1039.5 212.5C1040.0 215.8 1040.7 218.2 1041.2 219.5C1041.8 220.8 1042.7 220.3 1043.0 220.5" fill="none" stroke="#c8352f" stroke-width="1.9" stroke-linejoin="round" stroke-linecap="round"/>
</g>
<g fill="#fff" stroke-width="1.1">
<circle cx="128.0" cy="430.5" r="2.4" stroke="#2f4554"/>
<circle cx="198.2" cy="443.8" r="2.4" stroke="#2f4554"/>
<circle cx="269.2" cy="527.5" r="2.4" stroke="#2f4554"/>
<circle cx="340.0" cy="448.0" r="2.4" stroke="#2f4554"/>
<circle cx="410.8" cy="503.0" r="2.4" stroke="#2f4554"/>
<circle cx="481.8" cy="443.0" r="2.4" stroke="#2f4554"/>
<circle cx="552.5" cy="443.8" r="2.4" stroke="#2f4554"/>
<circle cx="623.3" cy="373.3" r="2.4" stroke="#2f4554"/>
<circle cx="693.8" cy="427.5" r="2.4" stroke="#2f4554"/>
<circle cx="764.5" cy="439.5" r="2.4" stroke="#2f4554"/>
<circle cx="835.8" cy="532.5" r="2.4" stroke="#2f4554"/>
<circle cx="906.5" cy="517.5" r="2.4" stroke="#2f4554"/>
<circle cx="977.5" cy="516.2" r="2.4" stroke="#2f4554"/>
<circle cx="481.8" cy="494.5" r="2.4" stroke="#c8352f"/>
<circle cx="552.5" cy="427.5" r="2.4" stroke="#c8352f"/>
<circle cx="623.3" cy="417.0" r="2.4" stroke="#c8352f"/>
<circle cx="693.8" cy="442.0" r="2.4" stroke="#c8352f"/>
<circle cx="764.5" cy="383.2" r="2.4" stroke="#c8352f"/>
<circle cx="835.8" cy="409.5" r="2.4" stroke="#c8352f"/>
<circle cx="906.8" cy="338.2" r="2.4" stroke="#c8352f"/>
<circle cx="977.5" cy="300.8" r="2.4" stroke="#c8352f"/>
</g>
<rect x="56" y="140" width="1" height="424" fill="#4d6172"/>
<rect x="56" y="563.5" width="988" height="1.6" fill="#4d6172"/>
<rect x="1041.3" y="139.5" width="1.7" height="425.5" fill="#737373"/>
<rect x="1042.5" y="139.4" width="5" height="1.2" fill="#555"/>
<rect x="1042.5" y="260.5" width="5" height="1.2" fill="#555"/>
<rect x="1042.5" y="381.7" width="5" height="1.2" fill="#555"/>
<rect x="1042.5" y="502.8" width="5" height="1.2" fill="#555"/>
<rect x="1042.5" y="563.8" width="5" height="1.2" fill="#555"/>
<path d="M57 382.3H1026" stroke="#2f4554" stroke-width="1" stroke-dasharray="5 5" fill="none"/>
<circle cx="56" cy="382.3" r="4.3" fill="#2f4554"/>
<path d="M1041 382.3L1023.5 376.7L1028.5 382.3L1023.5 387.9Z" fill="#2f4554"/>
<text x="1048" y="386.8" font-size="12.5" fill="#2f4554">20</text>
<path d="M57 503.4H1026" stroke="#2f4554" stroke-width="1" stroke-dasharray="5 5" fill="none"/>
<circle cx="56" cy="503.4" r="4.3" fill="#2f4554"/>
<path d="M1041 503.4L1023.5 497.8L1028.5 503.4L1023.5 509.0Z" fill="#2f4554"/>
<text x="1048" y="507.9" font-size="12.5" fill="#2f4554">10</text>
<g fill="#fff" fill-opacity="0.9">
<path d="M903.2 545.2L902.3 552.6L909.6 548.9Z"/><ellipse cx="913.7" cy="537.2" rx="14" ry="12.2"/>
</g>
<ellipse cx="927.8" cy="547.6" rx="14" ry="12.1" fill="#7ba9d0"/>
<g fill="#f3f7fb">
<path d="M931.5 556.8L937.4 559.8L936.2 553.4Z"/><ellipse cx="927.8" cy="547.6" rx="12.6" ry="10.7"/>
</g>
<g fill="#7aa8cf"><circle cx="908" cy="533.5" r="1.7"/><circle cx="919.6" cy="533.5" r="1.7"/><circle cx="923.8" cy="543.4" r="1.4"/><circle cx="932.7" cy="543.4" r="1.4"/></g>
<g clip-path="url(#c)" font-size="26.3" font-weight="500">
<text x="947.4" y="555.6" fill="#3f6288" fill-opacity="0.6">路财主N</text>
<text x="946.5" y="554.8" fill="#fff" fill-opacity="0.96">路财主N</text>
</g>
<rect x="57" y="591.2" width="988" height="1.8" fill="#dcdcdc"/>
</svg>
</body></html>
